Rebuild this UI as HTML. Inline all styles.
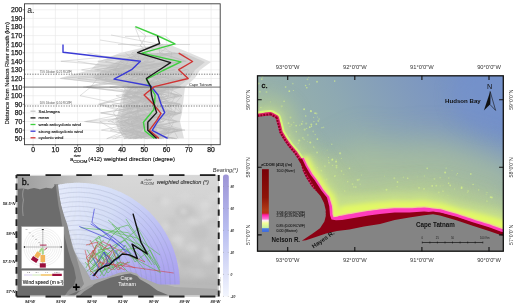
<!DOCTYPE html>
<html><head><meta charset="utf-8"><style>
html,body{margin:0;padding:0;background:#fff;width:520px;height:306px;overflow:hidden}
svg{display:block}
</style></head><body>
<svg width="520" height="306" viewBox="0 0 520 306">
<rect width="520" height="306" fill="#fff"/>
<rect x="24.5" y="3.8" width="195.7" height="140.9" fill="#fff"/>
<path d="M33.1 3.8V144.7M55.4 3.8V144.7M77.6 3.8V144.7M99.8 3.8V144.7M122.1 3.8V144.7M144.3 3.8V144.7M166.6 3.8V144.7M188.8 3.8V144.7M211.1 3.8V144.7M24.5 138.7H220.2M24.5 130.1H220.2M24.5 121.5H220.2M24.5 112.9H220.2M24.5 104.3H220.2M24.5 95.7H220.2M24.5 87.1H220.2M24.5 78.5H220.2M24.5 69.9H220.2M24.5 61.3H220.2M24.5 52.8H220.2M24.5 44.2H220.2M24.5 35.6H220.2M24.5 27.0H220.2M24.5 18.4H220.2M24.5 9.8H220.2" stroke="#e6e6e6" stroke-width="0.6" fill="none"/>
<polygon points="158.0,44.0 120.0,53.0 100.0,61.0 90.0,70.0 60.0,78.0 100.0,82.0 125.0,87.0 122.0,95.0 120.0,104.0 118.0,113.0 115.0,121.0 118.0,130.0 125.0,138.5 184.0,138.5 182.0,130.0 180.0,121.0 182.0,113.0 183.0,104.0 184.0,95.0 185.0,87.0 195.0,78.0 200.0,70.0 211.0,62.0 190.0,53.0 168.0,44.0" fill="#e0e0e0"/>
<polygon points="140.0,53.0 118.0,61.0 103.0,70.0 92.0,78.0 128.0,87.0 178.0,87.0 190.0,78.0 195.0,70.0 205.0,62.0 184.0,53.0" fill="#cdcdcd"/>
<polygon points="128.0,87.0 124.0,95.0 124.0,104.0 122.0,113.0 120.0,121.0 121.0,130.0 126.0,138.5 162.0,138.5 157.0,130.0 156.0,121.0 158.0,113.0 160.0,104.0 162.0,95.0 170.0,87.0" fill="#d0d0d0"/>
<polyline points="147.5,138.7 167.1,130.1 138.7,121.5 131.7,112.9 128.9,104.3 154.2,95.7 139.4,87.1 154.9,78.5 113.2,69.9 123.7,61.3" fill="none" stroke="#b9b9b9" stroke-width="0.45"/>
<polyline points="173.0,138.7 124.7,130.1 111.5,121.5 129.6,112.9 158.9,104.3 154.0,95.7 86.3,87.1 146.8,78.5 134.4,69.9" fill="none" stroke="#b9b9b9" stroke-width="0.45"/>
<polyline points="145.6,138.7 127.0,130.1 120.3,121.5 149.7,112.9 146.7,104.3 124.5,95.7 131.9,87.1 183.7,78.5 188.8,69.9 143.7,61.3 170.0,52.8" fill="none" stroke="#b9b9b9" stroke-width="0.45"/>
<polyline points="158.9,138.7 145.6,130.1 176.4,121.5 160.5,112.9 155.2,104.3 181.6,95.7 139.1,87.1 158.5,78.5 125.7,69.9 77.6,61.3" fill="none" stroke="#b9b9b9" stroke-width="0.45"/>
<polyline points="124.4,138.7 141.7,130.1 147.3,121.5 130.3,112.9 126.8,104.3 154.1,95.7 181.2,87.1 131.1,78.5" fill="none" stroke="#b9b9b9" stroke-width="0.45"/>
<polyline points="115.0,138.7 130.6,130.1 153.3,121.5 118.3,112.9 141.6,104.3 179.1,95.7 152.9,87.1 159.2,78.5 186.1,69.9" fill="none" stroke="#b9b9b9" stroke-width="0.45"/>
<polyline points="147.4,138.7 121.9,130.1 119.0,121.5 113.4,112.9 121.6,104.3 80.0,95.7 90.7,87.1 97.4,78.5 159.6,69.9 97.8,61.3 145.0,52.8" fill="none" stroke="#b9b9b9" stroke-width="0.45"/>
<polyline points="141.5,138.7 147.2,130.1 124.4,121.5 165.4,112.9 162.3,104.3 132.7,95.7 143.7,87.1 181.8,78.5" fill="none" stroke="#b9b9b9" stroke-width="0.45"/>
<polyline points="161.6,138.7 169.5,130.1 174.0,121.5 132.3,112.9 150.2,104.3 158.0,95.7 167.5,87.1 77.6,78.5 175.5,69.9 133.9,61.3 179.4,52.8" fill="none" stroke="#b9b9b9" stroke-width="0.45"/>
<polyline points="136.0,138.7 138.1,130.1 162.0,121.5 180.4,112.9 99.5,104.3 140.9,95.7 181.1,87.1 95.2,78.5 136.9,69.9 182.6,61.3" fill="none" stroke="#b9b9b9" stroke-width="0.45"/>
<polyline points="169.6,138.7 147.0,130.1 159.1,121.5 169.3,112.9 143.3,104.3 178.7,95.7 132.2,87.1 63.7,78.5" fill="none" stroke="#b9b9b9" stroke-width="0.45"/>
<polyline points="133.3,138.7 180.7,130.1 137.8,121.5 126.4,112.9 180.3,104.3 152.6,95.7 148.0,87.1 173.5,78.5 96.8,69.9 138.0,61.3 139.3,52.8" fill="none" stroke="#b9b9b9" stroke-width="0.45"/>
<polyline points="128.5,138.7 175.1,130.1 168.0,121.5 170.9,112.9 126.4,104.3 133.6,95.7 168.6,87.1 168.7,78.5 81.5,69.9 129.0,61.3" fill="none" stroke="#b9b9b9" stroke-width="0.45"/>
<polyline points="154.5,138.7 167.5,130.1 136.5,121.5 135.7,112.9 150.5,104.3 167.1,95.7 148.6,87.1 143.0,78.5" fill="none" stroke="#b9b9b9" stroke-width="0.45"/>
<polyline points="123.6,138.7 169.1,130.1 131.1,121.5 174.1,112.9 177.1,104.3 132.6,95.7 147.0,87.1 125.0,78.5 144.0,69.9 105.4,61.3 163.1,52.8" fill="none" stroke="#b9b9b9" stroke-width="0.45"/>
<polyline points="145.9,138.7 124.2,130.1 163.5,121.5 172.9,112.9 152.1,104.3 163.8,95.7 146.2,87.1 128.9,78.5 112.5,69.9 154.4,61.3 146.1,52.8 139.8,44.2" fill="none" stroke="#b9b9b9" stroke-width="0.45"/>
<polyline points="178.1,138.7 173.7,130.1 107.9,121.5 129.6,112.9 170.5,104.3 161.9,95.7 146.4,87.1 143.9,78.5" fill="none" stroke="#b9b9b9" stroke-width="0.45"/>
<polyline points="130.1,138.7 153.8,130.1 119.7,121.5 158.6,112.9 123.4,104.3 124.1,95.7 149.2,87.1 147.5,78.5 130.5,69.9 139.0,61.3 131.0,52.8" fill="none" stroke="#b9b9b9" stroke-width="0.45"/>
<polyline points="135.3,138.7 157.1,130.1 128.4,121.5 161.0,112.9 169.4,104.3 122.3,95.7 133.1,87.1 143.9,78.5 145.6,69.9" fill="none" stroke="#b9b9b9" stroke-width="0.45"/>
<polyline points="149.6,138.7 170.9,130.1 147.9,121.5 180.9,112.9 171.3,104.3 159.4,95.7 142.9,87.1 60.4,78.5 164.2,69.9 132.2,61.3 169.4,52.8" fill="none" stroke="#b9b9b9" stroke-width="0.45"/>
<polyline points="141.1,138.7 134.6,130.1 125.2,121.5 134.8,112.9 180.2,104.3 135.2,95.7 140.6,87.1 95.1,78.5 147.9,69.9 135.1,61.3 125.3,52.8" fill="none" stroke="#b9b9b9" stroke-width="0.45"/>
<polyline points="133.2,138.7 141.4,130.1 155.9,121.5 179.3,112.9 127.9,104.3 168.6,95.7 167.9,87.1 141.9,78.5 160.0,69.9 183.7,61.3" fill="none" stroke="#b9b9b9" stroke-width="0.45"/>
<polyline points="160.8,138.7 169.4,130.1 132.9,121.5 171.4,112.9 170.9,104.3 175.4,95.7 163.6,87.1 98.0,78.5 111.8,69.9 185.4,61.3 159.5,52.8 159.0,44.2" fill="none" stroke="#b9b9b9" stroke-width="0.45"/>
<polyline points="151.0,138.7 178.3,130.1 121.0,121.5 165.7,112.9 169.8,104.3 134.6,95.7 135.8,87.1 138.7,78.5 114.4,69.9 141.5,61.3 149.0,52.8" fill="none" stroke="#b9b9b9" stroke-width="0.45"/>
<polyline points="112.5,138.7 164.8,130.1 151.9,121.5 100.3,112.9 161.0,104.3 161.9,95.7 153.0,87.1 139.3,78.5 185.3,69.9" fill="none" stroke="#b9b9b9" stroke-width="0.45"/>
<polyline points="129.9,138.7 134.4,130.1 131.2,121.5 181.6,112.9 176.7,104.3 124.6,95.7 158.5,87.1 129.2,78.5 161.1,69.9" fill="none" stroke="#b9b9b9" stroke-width="0.45"/>
<polyline points="165.1,138.7 175.1,130.1 116.6,121.5 138.3,112.9 137.3,104.3 116.1,95.7 172.4,87.1 157.9,78.5 118.1,69.9 173.5,61.3" fill="none" stroke="#b9b9b9" stroke-width="0.45"/>
<polyline points="146.2,138.7 181.9,130.1 138.4,121.5 135.6,112.9 99.5,104.3 137.7,95.7 137.0,87.1 143.5,78.5 113.5,69.9 186.3,61.3 159.7,52.8 172.0,44.2" fill="none" stroke="#b9b9b9" stroke-width="0.45"/>
<polyline points="106.8,138.7 142.5,130.1 124.0,121.5 149.1,112.9 153.2,104.3 123.6,95.7 137.3,87.1 157.0,78.5 128.0,69.9 170.2,61.3 150.0,52.8" fill="none" stroke="#b9b9b9" stroke-width="0.45"/>
<polyline points="177.0,138.7 129.7,130.1 179.8,121.5 126.9,112.9 98.4,104.3 125.6,95.7 137.5,87.1 179.3,78.5" fill="none" stroke="#b9b9b9" stroke-width="0.45"/>
<polyline points="146.8,138.7 129.1,130.1 163.9,121.5 154.8,112.9 162.0,104.3 169.0,95.7 127.6,87.1 131.5,78.5 144.3,69.9 181.1,61.3 132.0,52.8 163.2,44.2" fill="none" stroke="#b9b9b9" stroke-width="0.45"/>
<polyline points="152.9,138.7 178.0,130.1 149.3,121.5 146.7,112.9 132.3,104.3 182.0,95.7 166.7,87.1 175.4,78.5 115.1,69.9 120.1,61.3 142.8,52.8" fill="none" stroke="#b9b9b9" stroke-width="0.45"/>
<polyline points="142.3,138.7 110.2,130.1 160.4,121.5 101.2,112.9 155.3,104.3 133.9,95.7 122.6,87.1 138.8,78.5" fill="none" stroke="#b9b9b9" stroke-width="0.45"/>
<polyline points="175.4,138.7 130.7,130.1 177.4,121.5 137.7,112.9 136.3,104.3 146.0,95.7 162.0,87.1 116.5,78.5 108.7,69.9 171.2,61.3" fill="none" stroke="#b9b9b9" stroke-width="0.45"/>
<polyline points="124.8,138.7 119.5,130.1 128.0,121.5 130.4,112.9 135.0,104.3 126.8,95.7 158.6,87.1 141.1,78.5 112.7,69.9" fill="none" stroke="#b9b9b9" stroke-width="0.45"/>
<polyline points="133.4,138.7 182.4,130.1 86.1,121.5 129.6,112.9 174.5,104.3 181.8,95.7 141.8,87.1 186.9,78.5 110.7,69.9 148.4,61.3 143.2,52.8" fill="none" stroke="#b9b9b9" stroke-width="0.45"/>
<polyline points="106.7,138.7 127.0,130.1 151.5,121.5 142.3,112.9 137.8,104.3 125.4,95.7 133.7,87.1 137.4,78.5 169.9,69.9" fill="none" stroke="#b9b9b9" stroke-width="0.45"/>
<polyline points="134.9,138.7 166.4,130.1 84.5,121.5 176.0,112.9 165.8,104.3 141.0,95.7 179.5,87.1 119.9,78.5 134.6,69.9 120.3,61.3 175.4,52.8" fill="none" stroke="#b9b9b9" stroke-width="0.45"/>
<polyline points="128.7,138.7 122.2,130.1 145.3,121.5 168.5,112.9 170.1,104.3 132.1,95.7 177.8,87.1 160.8,78.5 94.6,69.9 154.6,61.3 157.8,52.8" fill="none" stroke="#b9b9b9" stroke-width="0.45"/>
<polyline points="164.0,138.7 119.3,130.1 135.7,121.5 180.7,112.9 181.2,104.3 125.2,95.7 132.3,87.1 137.5,78.5 143.0,69.9 170.6,61.3 171.6,52.8" fill="none" stroke="#b9b9b9" stroke-width="0.45"/>
<polyline points="169.4,138.7 133.7,130.1 131.5,121.5 146.1,112.9 111.9,104.3 176.3,95.7 86.8,87.1 118.4,78.5 162.6,69.9 129.6,61.3 87.4,52.8" fill="none" stroke="#b9b9b9" stroke-width="0.45"/>
<polyline points="177.1,138.7 114.4,130.1 99.8,121.5 155.3,112.9 141.8,104.3 147.8,95.7 168.7,87.1 105.0,78.5 160.1,69.9" fill="none" stroke="#b9b9b9" stroke-width="0.45"/>
<polyline points="128.9,138.7 185.0,130.1 153.5,121.5 170.1,112.9 144.2,104.3 158.5,95.7 83.3,87.1 140.9,78.5 174.9,69.9" fill="none" stroke="#b9b9b9" stroke-width="0.45"/>
<polyline points="161.4,138.7 101.4,130.1 141.6,121.5 137.7,112.9 138.0,104.3 142.1,95.7 173.9,87.1 129.6,78.5 162.5,69.9 60.9,61.3 148.3,52.8" fill="none" stroke="#b9b9b9" stroke-width="0.45"/>
<polyline points="175.3,138.7 125.9,130.1 135.6,121.5 176.2,112.9 147.9,104.3 151.3,95.7 109.7,87.1 182.9,78.5" fill="none" stroke="#b9b9b9" stroke-width="0.45"/>
<polyline points="168.0,138.7 168.9,130.1 169.4,121.5 175.3,112.9 156.9,104.3 125.4,95.7 163.3,87.1 155.8,78.5" fill="none" stroke="#b9b9b9" stroke-width="0.45"/>
<polyline points="160.0,138.7 132.3,130.1 117.7,121.5 128.0,112.9 127.6,104.3 170.6,95.7 172.8,87.1 158.9,78.5 135.2,69.9" fill="none" stroke="#b9b9b9" stroke-width="0.45"/>
<polyline points="156.4,138.7 135.5,130.1 152.9,121.5 160.2,112.9 146.1,104.3 145.0,95.7 136.1,87.1 169.1,78.5 123.1,69.9 128.0,61.3" fill="none" stroke="#b9b9b9" stroke-width="0.45"/>
<polyline points="111.0,35.0 158.0,44.0 172.0,53.0" fill="none" stroke="#b9b9b9" stroke-width="0.45"/>
<polyline points="118.0,44.5 190.0,44.5" fill="none" stroke="#b9b9b9" stroke-width="0.45"/>
<polyline points="135.0,27.0 140.0,40.0 150.0,53.0" fill="none" stroke="#b9b9b9" stroke-width="0.45"/>
<polyline points="100.0,40.0 150.0,48.0 185.0,55.0" fill="none" stroke="#b9b9b9" stroke-width="0.45"/>
<polyline points="136.0,28.0 146.0,36.0 140.0,46.0" fill="none" stroke="#b9b9b9" stroke-width="0.45"/>
<polyline points="125.0,36.5 165.0,36.0 176.0,45.0" fill="none" stroke="#b9b9b9" stroke-width="0.45"/>
<path d="M24.5 74.2H220.2M24.5 106.0H220.2" stroke="#444" stroke-width="0.7" stroke-dasharray="1.3 1.3"/>
<path d="M24.5 87.1H220.2" stroke="#555" stroke-width="0.8"/>
<text x="39.7" y="72.6" font-size="2.75" fill="#555" font-family="Liberation Sans, Arial, sans-serif">75% Dilution (0.25 RCWF)</text>
<text x="39.7" y="104.4" font-size="2.75" fill="#555" font-family="Liberation Sans, Arial, sans-serif">50% Dilution (0.50 RCWF)</text>
<text x="188.9" y="86.1" font-size="3.9" fill="#222" font-family="Liberation Sans, Arial, sans-serif">Cape Tatnam</text>
<polyline points="135.3,26.6 157.0,35.5 175.0,43.8 141.9,53.1 180.9,61.9 163.0,70.5 146.3,79.3 149.3,85.1 155.1,95.0 154.5,104.0 153.7,109.7 143.4,122.2 144.9,131.0 154.4,138.4" fill="none" stroke="#3ecf3e" stroke-width="1.4" stroke-linejoin="round"/>
<polyline points="63.0,44.5 63.0,52.3 140.4,61.2 131.6,69.7 114.0,79.1 150.7,86.0 158.1,95.0 161.0,104.0 164.7,112.6 158.0,121.0 152.2,130.3 167.6,138.4" fill="none" stroke="#3a3ad6" stroke-width="1.4" stroke-linejoin="round"/>
<polyline points="178.7,53.1 192.6,61.5 178.7,69.7 188.2,78.5 154.4,86.6 144.1,95.0 153.7,104.6 161.0,113.4 156.6,120.7 149.3,130.3 158.8,138.4" fill="none" stroke="#d03434" stroke-width="1.4" stroke-linejoin="round"/>
<polyline points="157.4,35.9 159.6,43.5 137.5,52.6 170.6,62.6 158.5,70.5 146.3,78.5 150.7,86.6 151.5,95.0 154.0,104.0 156.6,112.6 147.8,122.2 147.8,130.3 156.6,138.4" fill="none" stroke="#1a1a1a" stroke-width="1.4" stroke-linejoin="round"/>
<path d="M30.5 111.2H35.5" stroke="#c8c8c8" stroke-width="1.3"/>
<text x="38.6" y="112.7" font-size="4.2" fill="#222" stroke="#222" stroke-width="0.14" font-family="Liberation Sans, Arial, sans-serif">Sat.Images</text>
<path d="M30.5 117.9H35.5" stroke="#1a1a1a" stroke-width="1.3"/>
<text x="38.6" y="119.4" font-size="4.2" fill="#222" stroke="#222" stroke-width="0.14" font-family="Liberation Sans, Arial, sans-serif">mean</text>
<path d="M30.5 124.5H35.5" stroke="#3ecf3e" stroke-width="1.3"/>
<text x="38.6" y="126.0" font-size="4.2" fill="#222" stroke="#222" stroke-width="0.14" font-family="Liberation Sans, Arial, sans-serif">weak anticyclonic wind</text>
<path d="M30.5 131.2H35.5" stroke="#3a3ad6" stroke-width="1.3"/>
<text x="38.6" y="132.7" font-size="4.2" fill="#222" stroke="#222" stroke-width="0.14" font-family="Liberation Sans, Arial, sans-serif">strong anticyclonic wind</text>
<path d="M30.5 137.8H35.5" stroke="#d03434" stroke-width="1.3"/>
<text x="38.6" y="139.3" font-size="4.2" fill="#222" stroke="#222" stroke-width="0.14" font-family="Liberation Sans, Arial, sans-serif">cyclonic wind</text>
<rect x="24.5" y="3.8" width="195.7" height="140.9" fill="none" stroke="#3a3a3a" stroke-width="0.9"/>
<text x="27.3" y="13.2" font-size="8.5" fill="#111" font-family="Liberation Sans, Arial, sans-serif">a.</text>
<text x="22.3" y="141.1" font-size="6.8" fill="#1a1a1a" stroke="#1a1a1a" stroke-width="0.25" text-anchor="end" font-family="Liberation Sans, Arial, sans-serif">50</text>
<text x="22.3" y="132.5" font-size="6.8" fill="#1a1a1a" stroke="#1a1a1a" stroke-width="0.25" text-anchor="end" font-family="Liberation Sans, Arial, sans-serif">60</text>
<text x="22.3" y="123.9" font-size="6.8" fill="#1a1a1a" stroke="#1a1a1a" stroke-width="0.25" text-anchor="end" font-family="Liberation Sans, Arial, sans-serif">70</text>
<text x="22.3" y="115.3" font-size="6.8" fill="#1a1a1a" stroke="#1a1a1a" stroke-width="0.25" text-anchor="end" font-family="Liberation Sans, Arial, sans-serif">80</text>
<text x="22.3" y="106.7" font-size="6.8" fill="#1a1a1a" stroke="#1a1a1a" stroke-width="0.25" text-anchor="end" font-family="Liberation Sans, Arial, sans-serif">90</text>
<text x="22.3" y="98.2" font-size="6.8" fill="#1a1a1a" stroke="#1a1a1a" stroke-width="0.25" text-anchor="end" font-family="Liberation Sans, Arial, sans-serif">100</text>
<text x="22.3" y="89.6" font-size="6.8" fill="#1a1a1a" stroke="#1a1a1a" stroke-width="0.25" text-anchor="end" font-family="Liberation Sans, Arial, sans-serif">110</text>
<text x="22.3" y="81.0" font-size="6.8" fill="#1a1a1a" stroke="#1a1a1a" stroke-width="0.25" text-anchor="end" font-family="Liberation Sans, Arial, sans-serif">120</text>
<text x="22.3" y="72.4" font-size="6.8" fill="#1a1a1a" stroke="#1a1a1a" stroke-width="0.25" text-anchor="end" font-family="Liberation Sans, Arial, sans-serif">130</text>
<text x="22.3" y="63.8" font-size="6.8" fill="#1a1a1a" stroke="#1a1a1a" stroke-width="0.25" text-anchor="end" font-family="Liberation Sans, Arial, sans-serif">140</text>
<text x="22.3" y="55.2" font-size="6.8" fill="#1a1a1a" stroke="#1a1a1a" stroke-width="0.25" text-anchor="end" font-family="Liberation Sans, Arial, sans-serif">150</text>
<text x="22.3" y="46.6" font-size="6.8" fill="#1a1a1a" stroke="#1a1a1a" stroke-width="0.25" text-anchor="end" font-family="Liberation Sans, Arial, sans-serif">160</text>
<text x="22.3" y="38.0" font-size="6.8" fill="#1a1a1a" stroke="#1a1a1a" stroke-width="0.25" text-anchor="end" font-family="Liberation Sans, Arial, sans-serif">170</text>
<text x="22.3" y="29.4" font-size="6.8" fill="#1a1a1a" stroke="#1a1a1a" stroke-width="0.25" text-anchor="end" font-family="Liberation Sans, Arial, sans-serif">180</text>
<text x="22.3" y="20.8" font-size="6.8" fill="#1a1a1a" stroke="#1a1a1a" stroke-width="0.25" text-anchor="end" font-family="Liberation Sans, Arial, sans-serif">190</text>
<text x="22.3" y="12.2" font-size="6.8" fill="#1a1a1a" stroke="#1a1a1a" stroke-width="0.25" text-anchor="end" font-family="Liberation Sans, Arial, sans-serif">200</text>
<text x="33.1" y="152.4" font-size="6.8" fill="#1a1a1a" stroke="#1a1a1a" stroke-width="0.25" text-anchor="middle" font-family="Liberation Sans, Arial, sans-serif">0</text>
<text x="55.4" y="152.4" font-size="6.8" fill="#1a1a1a" stroke="#1a1a1a" stroke-width="0.25" text-anchor="middle" font-family="Liberation Sans, Arial, sans-serif">10</text>
<text x="77.6" y="152.4" font-size="6.8" fill="#1a1a1a" stroke="#1a1a1a" stroke-width="0.25" text-anchor="middle" font-family="Liberation Sans, Arial, sans-serif">20</text>
<text x="99.8" y="152.4" font-size="6.8" fill="#1a1a1a" stroke="#1a1a1a" stroke-width="0.25" text-anchor="middle" font-family="Liberation Sans, Arial, sans-serif">30</text>
<text x="122.1" y="152.4" font-size="6.8" fill="#1a1a1a" stroke="#1a1a1a" stroke-width="0.25" text-anchor="middle" font-family="Liberation Sans, Arial, sans-serif">40</text>
<text x="144.3" y="152.4" font-size="6.8" fill="#1a1a1a" stroke="#1a1a1a" stroke-width="0.25" text-anchor="middle" font-family="Liberation Sans, Arial, sans-serif">50</text>
<text x="166.6" y="152.4" font-size="6.8" fill="#1a1a1a" stroke="#1a1a1a" stroke-width="0.25" text-anchor="middle" font-family="Liberation Sans, Arial, sans-serif">60</text>
<text x="188.8" y="152.4" font-size="6.8" fill="#1a1a1a" stroke="#1a1a1a" stroke-width="0.25" text-anchor="middle" font-family="Liberation Sans, Arial, sans-serif">70</text>
<text x="211.1" y="152.4" font-size="6.8" fill="#1a1a1a" stroke="#1a1a1a" stroke-width="0.25" text-anchor="middle" font-family="Liberation Sans, Arial, sans-serif">80</text>
<path d="M22.8 138.7H24.5M22.8 130.1H24.5M22.8 121.5H24.5M22.8 112.9H24.5M22.8 104.3H24.5M22.8 95.7H24.5M22.8 87.1H24.5M22.8 78.5H24.5M22.8 69.9H24.5M22.8 61.3H24.5M22.8 52.8H24.5M22.8 44.2H24.5M22.8 35.6H24.5M22.8 27.0H24.5M22.8 18.4H24.5M22.8 9.8H24.5M33.1 144.7V146.5M55.4 144.7V146.5M77.6 144.7V146.5M99.8 144.7V146.5M122.1 144.7V146.5M144.3 144.7V146.5M166.6 144.7V146.5M188.8 144.7V146.5M211.1 144.7V146.5" stroke="#333" stroke-width="0.6"/>
<text transform="translate(8.7 73.3) rotate(-90)" font-size="5.85" fill="#1a1a1a" stroke="#1a1a1a" stroke-width="0.15" text-anchor="middle" font-family="Liberation Sans, Arial, sans-serif">Distance from Nelson River mouth (km)</text>
<text x="70.1" y="161" font-size="5.9" fill="#1a1a1a" stroke="#1a1a1a" stroke-width="0.15" font-family="Liberation Sans, Arial, sans-serif">a<tspan font-size="4.1" x="73.2" y="162.6" textLength="14.2" lengthAdjust="spacingAndGlyphs">CDOM</tspan><tspan font-size="3.3" x="73.8" y="157" textLength="6.9" lengthAdjust="spacingAndGlyphs">river</tspan><tspan x="88.3" y="161">(412) weighted direction (degree)</tspan></text>
<clipPath id="cb"><rect x="16.5" y="175.1" width="202.2" height="121.4"/></clipPath>
<linearGradient id="bgsea" x1="0" y1="0" x2="0" y2="1"><stop offset="0" stop-color="#d8d8d8"/><stop offset="0.5" stop-color="#cbcbcb"/><stop offset="0.8" stop-color="#c0c0c0"/><stop offset="1" stop-color="#b0b0b0"/></linearGradient>
<linearGradient id="topstrip" gradientUnits="userSpaceOnUse" x1="16" y1="0" x2="120" y2="0"><stop offset="0" stop-color="#9c9c9c"/><stop offset="0.3" stop-color="#adadad"/><stop offset="0.55" stop-color="#c2c2c2"/><stop offset="1" stop-color="#d8d8d8" stop-opacity="0"/></linearGradient>
<g clip-path="url(#cb)">
<rect x="16.5" y="175.1" width="202.2" height="121.4" fill="url(#bgsea)"/>
<filter id="bb2" filterUnits="userSpaceOnUse" x="0" y="160" width="240" height="150"><feGaussianBlur stdDeviation="2"/></filter>
<g filter="url(#bb2)" opacity="0.55">
<ellipse cx="185" cy="212" rx="10" ry="7" fill="#bcbcbc"/>
<ellipse cx="200" cy="232" rx="9" ry="8" fill="#bebebe"/>
<ellipse cx="172" cy="222" rx="6" ry="5" fill="#c2c2c2"/>
<ellipse cx="192" cy="248" rx="6" ry="4" fill="#dedede"/>
<ellipse cx="208" cy="258" rx="6" ry="5" fill="#dcdcdc"/>
<ellipse cx="185" cy="262" rx="7" ry="4" fill="#b8b8b8"/>
<ellipse cx="160" cy="200" rx="6" ry="3" fill="#c8c8c8"/>
<ellipse cx="205" cy="205" rx="5" ry="4" fill="#e2e2e2"/>
<ellipse cx="178" cy="240" rx="4" ry="3" fill="#dadada"/>
<ellipse cx="196" cy="222" rx="4" ry="3" fill="#dcdcdc"/>
<ellipse cx="170" cy="258" rx="5" ry="3" fill="#d6d6d6"/>
<ellipse cx="159.5" cy="241.3" rx="6.6" ry="3.4" fill="#c6c6c6"/>
<ellipse cx="187.6" cy="246.5" rx="3.3" ry="2.7" fill="#dadada"/>
<ellipse cx="221.6" cy="235.0" rx="4.4" ry="3.9" fill="#dedede"/>
<ellipse cx="152.4" cy="249.0" rx="3.9" ry="2.0" fill="#dedede"/>
<ellipse cx="203.7" cy="208.5" rx="2.2" ry="4.3" fill="#dedede"/>
<ellipse cx="207.5" cy="217.9" rx="5.6" ry="4.6" fill="#dedede"/>
<ellipse cx="198.6" cy="273.3" rx="5.6" ry="3.7" fill="#dadada"/>
<ellipse cx="219.1" cy="206.4" rx="2.5" ry="2.4" fill="#c6c6c6"/>
<ellipse cx="157.8" cy="277.1" rx="5.9" ry="4.6" fill="#dadada"/>
<ellipse cx="174.5" cy="265.8" rx="3.8" ry="3.8" fill="#dedede"/>
<ellipse cx="187.9" cy="271.9" rx="6.6" ry="2.1" fill="#e2e2e2"/>
<ellipse cx="162.9" cy="246.5" rx="2.8" ry="4.6" fill="#e2e2e2"/>
<ellipse cx="219.1" cy="271.9" rx="2.5" ry="4.0" fill="#dedede"/>
<ellipse cx="191.9" cy="279.0" rx="3.4" ry="2.2" fill="#c6c6c6"/>
<ellipse cx="210.0" cy="279.1" rx="3.7" ry="2.2" fill="#bdbdbd"/>
<ellipse cx="213.6" cy="196.7" rx="5.8" ry="4.6" fill="#dadada"/>
<ellipse cx="143.6" cy="247.2" rx="3.9" ry="3.8" fill="#bdbdbd"/>
<ellipse cx="185.2" cy="273.4" rx="4.5" ry="5.0" fill="#c6c6c6"/>
<ellipse cx="165.4" cy="201.5" rx="4.7" ry="4.8" fill="#dedede"/>
<ellipse cx="219.7" cy="219.8" rx="2.8" ry="2.1" fill="#c6c6c6"/>
<ellipse cx="211.2" cy="221.7" rx="6.5" ry="3.1" fill="#c2c2c2"/>
<ellipse cx="177.8" cy="239.2" rx="6.3" ry="4.0" fill="#e2e2e2"/>
<ellipse cx="148.4" cy="277.7" rx="3.4" ry="3.9" fill="#dedede"/>
<ellipse cx="198.7" cy="274.6" rx="6.9" ry="3.6" fill="#dadada"/>
<ellipse cx="185.0" cy="196.0" rx="6.9" ry="2.9" fill="#dadada"/>
<ellipse cx="170.9" cy="245.1" rx="2.3" ry="3.9" fill="#c2c2c2"/>
<ellipse cx="178.2" cy="252.7" rx="5.0" ry="2.8" fill="#c6c6c6"/>
<ellipse cx="180.1" cy="245.1" rx="2.1" ry="3.1" fill="#e2e2e2"/>
<ellipse cx="191.5" cy="220.4" rx="3.6" ry="3.1" fill="#dedede"/>
<ellipse cx="165.6" cy="226.4" rx="3.3" ry="4.4" fill="#dedede"/>
<ellipse cx="148.6" cy="264.1" rx="5.4" ry="2.4" fill="#dedede"/>
<ellipse cx="181.0" cy="250.6" rx="3.2" ry="2.6" fill="#c6c6c6"/>
<ellipse cx="175.7" cy="254.3" rx="5.0" ry="4.8" fill="#bdbdbd"/>
<ellipse cx="195.3" cy="214.1" rx="2.4" ry="4.2" fill="#c2c2c2"/>
<ellipse cx="157.9" cy="243.3" rx="3.1" ry="2.4" fill="#c6c6c6"/>
<ellipse cx="183.4" cy="211.2" rx="2.9" ry="2.8" fill="#dedede"/>
<ellipse cx="206.2" cy="249.6" rx="3.7" ry="2.4" fill="#dedede"/>
<ellipse cx="163.9" cy="262.5" rx="4.3" ry="3.9" fill="#c6c6c6"/>
<ellipse cx="163.8" cy="243.3" rx="6.6" ry="2.5" fill="#bdbdbd"/>
<ellipse cx="140.4" cy="275.2" rx="6.9" ry="3.3" fill="#dedede"/>
<path d="M150 268 Q185 276 222 272" fill="none" stroke="#c4c4c4" stroke-width="3"/>
<path d="M150 273 Q185 281 222 277" fill="none" stroke="#bcbcbc" stroke-width="3"/>
<path d="M150 278 Q185 286 222 282" fill="none" stroke="#b4b4b4" stroke-width="3"/>
</g>
<path d="M16.5 175 L120 175 L120 189 L16.5 189Z" fill="url(#topstrip)"/>
<path d="M150 297 L150 276 L170 281 L185 284 L219 285 L219 297Z" fill="#b8b8b8"/>
<path d="M150 297 L150 286 L170 290 L190 292 L219 292.5 L219 297Z" fill="#a2a2a2"/>
<path d="M54 184 L59 184 L60.5 195 L62 205 L65 215 L69 225 L72 238 L76 250 L81 260 L87 268.4 L92 278.8 L96 281 L86 287 L78 293 L72 297 L60 297 Z" fill="#8c8c8c"/>
<path d="M71 240 L74 250 L79 260 L85 268.4 L90 278 L106 275.5 L119.8 270.5 L128.4 269.3 L137 271.6 L149.2 278.5 L160 283 L175 287 L219 289 L219 297 L80 297 L74 297 L84 284 L80 270 L76 256 L72 246 Z" fill="#a9a9a9"/>
<path d="M16.5 189 L22 188.4 L28 189.3 L34 188 L40 189.2 L46 187.8 L52 188.6 L55.8 184.4 L57.2 196 L58.5 206 L60.5 215 L62 225 L65 238 L68 250 L71 260 L74 268 L76 278 L74 285 L68 291 L64 297 L16.5 297Z" fill="#6c6c6c"/>
<path d="M24 188 Q21.5 194 23.5 200 Q21.8 207 23.2 216" fill="none" stroke="#929292" stroke-width="1.1"/>
<path d="M64 297 L76 292 L86.9 288 L97.3 282.8 L111.1 277.6 L125 274.2 L130.2 273.6 L137.1 276 L140 279.2 L149.2 284.5 L157.2 290.6 L168.6 295.2 L180 297.5Z" fill="#6c6c6c"/>
<path d="M73 297 L80 291 L88 286 L95 283.5 L92 286.5 L84 291.5 L78 297Z" fill="#9c9c9c"/>
<clipPath id="fanclip"><path d="M56.5 170 L240 170 L240 290 L180 290 L175 288.9 L160 284.9 L149.2 280.5 L140 276.8 L137 273.6 L128.4 271.3 L119.8 272.5 L106 277.5 L91.2 280 L85 268.4 L79 260 L74 250 L70.5 238 L67.5 225 L64 215 L61 205 L59.3 195 L58 184.4 Z"/></clipPath>
<g clip-path="url(#fanclip)">
<path d="M77.9 284.6L56.73 185.02A101.8 101.8 0 0 1 59.00 184.57Z" fill="rgb(228, 234, 250)"/>
<path d="M77.9 284.6L58.48 184.67A101.8 101.8 0 0 1 60.75 184.26Z" fill="rgb(227, 233, 250)"/>
<path d="M77.9 284.6L60.22 184.35A101.8 101.8 0 0 1 62.50 183.97Z" fill="rgb(227, 233, 250)"/>
<path d="M77.9 284.6L61.97 184.05A101.8 101.8 0 0 1 64.26 183.72Z" fill="rgb(226, 233, 250)"/>
<path d="M77.9 284.6L63.73 183.79A101.8 101.8 0 0 1 66.02 183.50Z" fill="rgb(226, 232, 250)"/>
<path d="M77.9 284.6L65.49 183.56A101.8 101.8 0 0 1 67.79 183.30Z" fill="rgb(226, 232, 250)"/>
<path d="M77.9 284.6L67.26 183.36A101.8 101.8 0 0 1 69.56 183.14Z" fill="rgb(225, 232, 249)"/>
<path d="M77.9 284.6L69.03 183.19A101.8 101.8 0 0 1 71.33 183.01Z" fill="rgb(225, 231, 249)"/>
<path d="M77.9 284.6L70.80 183.05A101.8 101.8 0 0 1 73.10 182.91Z" fill="rgb(224, 231, 249)"/>
<path d="M77.9 284.6L72.57 182.94A101.8 101.8 0 0 1 74.88 182.84Z" fill="rgb(224, 231, 249)"/>
<path d="M77.9 284.6L74.35 182.86A101.8 101.8 0 0 1 76.66 182.81Z" fill="rgb(223, 230, 249)"/>
<path d="M77.9 284.6L76.12 182.82A101.8 101.8 0 0 1 78.43 182.80Z" fill="rgb(223, 230, 249)"/>
<path d="M77.9 284.6L77.90 182.80A101.8 101.8 0 0 1 80.21 182.83Z" fill="rgb(222, 229, 249)"/>
<path d="M77.9 284.6L79.68 182.82A101.8 101.8 0 0 1 81.99 182.88Z" fill="rgb(222, 229, 249)"/>
<path d="M77.9 284.6L81.45 182.86A101.8 101.8 0 0 1 83.76 182.97Z" fill="rgb(222, 229, 249)"/>
<path d="M77.9 284.6L83.23 182.94A101.8 101.8 0 0 1 85.53 183.09Z" fill="rgb(221, 228, 249)"/>
<path d="M77.9 284.6L85.00 183.05A101.8 101.8 0 0 1 87.30 183.24Z" fill="rgb(221, 228, 249)"/>
<path d="M77.9 284.6L86.77 183.19A101.8 101.8 0 0 1 89.07 183.41Z" fill="rgb(220, 228, 249)"/>
<path d="M77.9 284.6L88.54 183.36A101.8 101.8 0 0 1 90.84 183.63Z" fill="rgb(220, 227, 248)"/>
<path d="M77.9 284.6L90.31 183.56A101.8 101.8 0 0 1 92.60 183.87Z" fill="rgb(219, 227, 248)"/>
<path d="M77.9 284.6L92.07 183.79A101.8 101.8 0 0 1 94.35 184.14Z" fill="rgb(219, 227, 248)"/>
<path d="M77.9 284.6L93.83 184.05A101.8 101.8 0 0 1 96.10 184.44Z" fill="rgb(218, 226, 248)"/>
<path d="M77.9 284.6L95.58 184.35A101.8 101.8 0 0 1 97.85 184.77Z" fill="rgb(218, 226, 248)"/>
<path d="M77.9 284.6L97.32 184.67A101.8 101.8 0 0 1 99.59 185.14Z" fill="rgb(218, 226, 248)"/>
<path d="M77.9 284.6L99.07 185.02A101.8 101.8 0 0 1 101.32 185.53Z" fill="rgb(217, 225, 248)"/>
<path d="M77.9 284.6L100.80 185.41A101.8 101.8 0 0 1 103.04 185.95Z" fill="rgb(217, 225, 248)"/>
<path d="M77.9 284.6L102.53 185.82A101.8 101.8 0 0 1 104.76 186.41Z" fill="rgb(216, 224, 248)"/>
<path d="M77.9 284.6L104.25 186.27A101.8 101.8 0 0 1 106.47 186.89Z" fill="rgb(216, 224, 248)"/>
<path d="M77.9 284.6L105.96 186.74A101.8 101.8 0 0 1 108.17 187.41Z" fill="rgb(215, 224, 248)"/>
<path d="M77.9 284.6L107.66 187.25A101.8 101.8 0 0 1 109.86 187.95Z" fill="rgb(215, 223, 248)"/>
<path d="M77.9 284.6L109.36 187.78A101.8 101.8 0 0 1 111.55 188.52Z" fill="rgb(214, 223, 247)"/>
<path d="M77.9 284.6L111.04 188.35A101.8 101.8 0 0 1 113.22 189.12Z" fill="rgb(214, 223, 247)"/>
<path d="M77.9 284.6L112.72 188.94A101.8 101.8 0 0 1 114.88 189.75Z" fill="rgb(214, 222, 247)"/>
<path d="M77.9 284.6L114.38 189.56A101.8 101.8 0 0 1 116.53 190.41Z" fill="rgb(213, 222, 247)"/>
<path d="M77.9 284.6L116.03 190.21A101.8 101.8 0 0 1 118.17 191.10Z" fill="rgb(213, 222, 247)"/>
<path d="M77.9 284.6L117.68 190.89A101.8 101.8 0 0 1 119.79 191.82Z" fill="rgb(212, 221, 247)"/>
<path d="M77.9 284.6L119.31 191.60A101.8 101.8 0 0 1 121.41 192.56Z" fill="rgb(212, 221, 247)"/>
<path d="M77.9 284.6L120.92 192.34A101.8 101.8 0 0 1 123.00 193.34Z" fill="rgb(211, 220, 247)"/>
<path d="M77.9 284.6L122.53 193.10A101.8 101.8 0 0 1 124.59 194.14Z" fill="rgb(210, 219, 247)"/>
<path d="M77.9 284.6L124.12 193.90A101.8 101.8 0 0 1 126.16 194.97Z" fill="rgb(209, 218, 247)"/>
<path d="M77.9 284.6L125.69 194.72A101.8 101.8 0 0 1 127.72 195.82Z" fill="rgb(209, 217, 247)"/>
<path d="M77.9 284.6L127.25 195.56A101.8 101.8 0 0 1 129.26 196.71Z" fill="rgb(208, 216, 247)"/>
<path d="M77.9 284.6L128.80 196.44A101.8 101.8 0 0 1 130.79 197.62Z" fill="rgb(207, 215, 246)"/>
<path d="M77.9 284.6L130.33 197.34A101.8 101.8 0 0 1 132.30 198.55Z" fill="rgb(206, 214, 246)"/>
<path d="M77.9 284.6L131.85 198.27A101.8 101.8 0 0 1 133.79 199.51Z" fill="rgb(205, 213, 246)"/>
<path d="M77.9 284.6L133.34 199.22A101.8 101.8 0 0 1 135.27 200.50Z" fill="rgb(205, 212, 246)"/>
<path d="M77.9 284.6L134.83 200.20A101.8 101.8 0 0 1 136.73 201.52Z" fill="rgb(204, 211, 246)"/>
<path d="M77.9 284.6L136.29 201.21A101.8 101.8 0 0 1 138.17 202.56Z" fill="rgb(203, 210, 246)"/>
<path d="M77.9 284.6L137.74 202.24A101.8 101.8 0 0 1 139.59 203.62Z" fill="rgb(202, 209, 246)"/>
<path d="M77.9 284.6L139.16 203.30A101.8 101.8 0 0 1 140.99 204.71Z" fill="rgb(202, 208, 246)"/>
<path d="M77.9 284.6L140.57 204.38A101.8 101.8 0 0 1 142.38 205.82Z" fill="rgb(201, 207, 246)"/>
<path d="M77.9 284.6L141.96 205.49A101.8 101.8 0 0 1 143.74 206.96Z" fill="rgb(200, 206, 246)"/>
<path d="M77.9 284.6L143.34 206.62A101.8 101.8 0 0 1 145.09 208.12Z" fill="rgb(199, 205, 246)"/>
<path d="M77.9 284.6L144.69 207.77A101.8 101.8 0 0 1 146.41 209.31Z" fill="rgb(199, 204, 246)"/>
<path d="M77.9 284.6L146.02 208.95A101.8 101.8 0 0 1 147.72 210.51Z" fill="rgb(198, 203, 246)"/>
<path d="M77.9 284.6L147.33 210.15A101.8 101.8 0 0 1 149.00 211.74Z" fill="rgb(197, 202, 246)"/>
<path d="M77.9 284.6L148.62 211.37A101.8 101.8 0 0 1 150.26 212.99Z" fill="rgb(196, 201, 245)"/>
<path d="M77.9 284.6L149.88 212.62A101.8 101.8 0 0 1 151.50 214.27Z" fill="rgb(195, 200, 245)"/>
<path d="M77.9 284.6L151.13 213.88A101.8 101.8 0 0 1 152.71 215.56Z" fill="rgb(195, 199, 245)"/>
<path d="M77.9 284.6L152.35 215.17A101.8 101.8 0 0 1 153.91 216.88Z" fill="rgb(194, 198, 245)"/>
<path d="M77.9 284.6L153.55 216.48A101.8 101.8 0 0 1 155.08 218.22Z" fill="rgb(193, 197, 245)"/>
<path d="M77.9 284.6L154.73 217.81A101.8 101.8 0 0 1 156.22 219.57Z" fill="rgb(192, 196, 245)"/>
<path d="M77.9 284.6L155.88 219.16A101.8 101.8 0 0 1 157.35 220.95Z" fill="rgb(192, 195, 245)"/>
<path d="M77.9 284.6L157.01 220.54A101.8 101.8 0 0 1 158.45 222.35Z" fill="rgb(191, 194, 245)"/>
<path d="M77.9 284.6L158.12 221.93A101.8 101.8 0 0 1 159.52 223.76Z" fill="rgb(190, 193, 245)"/>
<path d="M77.9 284.6L159.20 223.34A101.8 101.8 0 0 1 160.57 225.20Z" fill="rgb(190, 192, 245)"/>
<path d="M77.9 284.6L160.26 224.76A101.8 101.8 0 0 1 161.59 226.65Z" fill="rgb(189, 191, 244)"/>
<path d="M77.9 284.6L161.29 226.21A101.8 101.8 0 0 1 162.59 228.12Z" fill="rgb(188, 190, 244)"/>
<path d="M77.9 284.6L162.30 227.67A101.8 101.8 0 0 1 163.57 229.60Z" fill="rgb(188, 189, 244)"/>
<path d="M77.9 284.6L163.28 229.16A101.8 101.8 0 0 1 164.51 231.11Z" fill="rgb(187, 188, 244)"/>
<path d="M77.9 284.6L164.23 230.65A101.8 101.8 0 0 1 165.43 232.63Z" fill="rgb(187, 187, 244)"/>
<path d="M77.9 284.6L165.16 232.17A101.8 101.8 0 0 1 166.33 234.16Z" fill="rgb(186, 186, 244)"/>
<path d="M77.9 284.6L166.06 233.70A101.8 101.8 0 0 1 167.19 235.71Z" fill="rgb(185, 185, 244)"/>
<path d="M77.9 284.6L166.94 235.25A101.8 101.8 0 0 1 168.03 237.28Z" fill="rgb(185, 184, 244)"/>
<path d="M77.9 284.6L167.78 236.81A101.8 101.8 0 0 1 168.85 238.86Z" fill="rgb(184, 183, 244)"/>
<path d="M77.9 284.6L168.60 238.38A101.8 101.8 0 0 1 169.63 240.45Z" fill="rgb(183, 182, 243)"/>
<path d="M77.9 284.6L169.40 239.97A101.8 101.8 0 0 1 170.39 242.06Z" fill="rgb(183, 181, 243)"/>
<path d="M77.9 284.6L170.16 241.58A101.8 101.8 0 0 1 171.11 243.68Z" fill="rgb(182, 180, 243)"/>
<path d="M77.9 284.6L170.90 243.19A101.8 101.8 0 0 1 171.81 245.31Z" fill="rgb(181, 179, 243)"/>
<path d="M77.9 284.6L171.61 244.82A101.8 101.8 0 0 1 172.49 246.96Z" fill="rgb(181, 178, 243)"/>
<path d="M77.9 284.6L172.29 246.47A101.8 101.8 0 0 1 173.13 248.62Z" fill="rgb(180, 177, 243)"/>
<path d="M77.9 284.6L172.94 248.12A101.8 101.8 0 0 1 173.74 250.28Z" fill="rgb(180, 176, 243)"/>
<path d="M77.9 284.6L173.56 249.78A101.8 101.8 0 0 1 174.33 251.96Z" fill="rgb(179, 175, 243)"/>
<path d="M77.9 284.6L174.15 251.46A101.8 101.8 0 0 1 174.88 253.65Z" fill="rgb(178, 174, 242)"/>
<path d="M77.9 284.6L174.72 253.14A101.8 101.8 0 0 1 175.41 255.35Z" fill="rgb(178, 173, 242)"/>
<path d="M77.9 284.6L175.25 254.84A101.8 101.8 0 0 1 175.90 257.05Z" fill="rgb(177, 172, 242)"/>
<path d="M77.9 284.6L175.76 256.54A101.8 101.8 0 0 1 176.37 258.77Z" fill="rgb(176, 171, 242)"/>
<path d="M77.9 284.6L176.23 258.25A101.8 101.8 0 0 1 176.80 260.49Z" fill="rgb(176, 170, 242)"/>
<path d="M77.9 284.6L176.68 259.97A101.8 101.8 0 0 1 177.21 262.22Z" fill="rgb(175, 169, 242)"/>
<path d="M77.9 284.6L177.09 261.70A101.8 101.8 0 0 1 177.58 263.96Z" fill="rgb(174, 168, 241)"/>
<path d="M77.9 284.6L177.48 263.43A101.8 101.8 0 0 1 177.93 265.70Z" fill="rgb(174, 167, 241)"/>
<path d="M77.9 284.6L177.83 265.18A101.8 101.8 0 0 1 178.24 267.45Z" fill="rgb(173, 166, 241)"/>
<path d="M77.9 284.6L178.15 266.92A101.8 101.8 0 0 1 178.53 269.20Z" fill="rgb(172, 166, 241)"/>
<path d="M77.9 284.6L178.45 268.67A101.8 101.8 0 0 1 178.78 270.96Z" fill="rgb(172, 165, 240)"/>
<path d="M77.9 284.6L178.71 270.43A101.8 101.8 0 0 1 179.00 272.72Z" fill="rgb(171, 164, 240)"/>
<path d="M77.9 284.6L178.94 272.19A101.8 101.8 0 0 1 179.20 274.49Z" fill="rgb(170, 163, 240)"/>
<path d="M77.9 284.6L179.14 273.96A101.8 101.8 0 0 1 179.36 276.26Z" fill="rgb(170, 162, 239)"/>
<path d="M77.9 284.6L179.31 275.73A101.8 101.8 0 0 1 179.49 278.03Z" fill="rgb(169, 162, 239)"/>
<path d="M77.9 284.6L179.45 277.50A101.8 101.8 0 0 1 179.59 279.80Z" fill="rgb(168, 161, 239)"/>
<path d="M77.9 284.6L179.56 279.27A101.8 101.8 0 0 1 179.66 281.58Z" fill="rgb(168, 160, 239)"/>
<path d="M77.9 284.6L179.64 281.05A101.8 101.8 0 0 1 179.69 283.36Z" fill="rgb(167, 159, 238)"/>
<path d="M77.9 284.6L179.68 282.82A101.8 101.8 0 0 1 179.70 284.60Z" fill="rgb(166, 158, 238)"/>
<path d="M57.71 189.62A97.10 97.10 0 0 1 175.00 284.60M58.69 194.22A92.40 92.40 0 0 1 170.30 284.60M59.67 198.82A87.70 87.70 0 0 1 165.60 284.60M60.64 203.41A83.00 83.00 0 0 1 160.90 284.60M61.62 208.01A78.30 78.30 0 0 1 156.20 284.60M62.60 212.61A73.60 73.60 0 0 1 151.50 284.60M63.57 217.21A68.90 68.90 0 0 1 146.80 284.60M64.55 221.80A64.20 64.20 0 0 1 142.10 284.60M65.53 226.40A59.50 59.50 0 0 1 137.40 284.60M66.51 231.00A54.80 54.80 0 0 1 132.70 284.60M67.48 235.59A50.10 50.10 0 0 1 128.00 284.60M68.46 240.19A45.40 45.40 0 0 1 123.30 284.60M69.44 244.79A40.70 40.70 0 0 1 118.60 284.60M70.42 249.39A36.00 36.00 0 0 1 113.90 284.60M71.39 253.98A31.30 31.30 0 0 1 109.20 284.60M72.37 258.58A26.60 26.60 0 0 1 104.50 284.60M73.35 263.18A21.90 21.90 0 0 1 99.80 284.60M74.32 267.78A17.20 17.20 0 0 1 95.10 284.60M75.30 272.37A12.50 12.50 0 0 1 90.40 284.60" fill="none" stroke="#7f86aa" stroke-opacity="0.42" stroke-width="0.5"/>
<polyline points="80.5,227.7 128.4,232.7 151.0,259.0" fill="none" stroke="#55b84a" stroke-width="0.6" stroke-linejoin="round"/>
<polyline points="108.2,220.1 141.0,249.0 150.0,262.0" fill="none" stroke="#55b84a" stroke-width="0.6" stroke-linejoin="round"/>
<polyline points="125.9,218.9 151.0,257.9" fill="none" stroke="#55b84a" stroke-width="0.6" stroke-linejoin="round"/>
<polyline points="136.0,225.0 153.6,256.6 160.0,268.0" fill="none" stroke="#55b84a" stroke-width="0.6" stroke-linejoin="round"/>
<polyline points="86.0,272.0 139.0,228.0" fill="none" stroke="#55b84a" stroke-width="0.6" stroke-linejoin="round"/>
<polyline points="95.0,240.0 118.0,228.0 128.0,225.0 160.0,270.0" fill="none" stroke="#55b84a" stroke-width="0.6" stroke-linejoin="round"/>
<polyline points="88.0,265.0 100.0,252.0 115.0,260.0 125.0,245.0 135.0,262.0 150.0,250.0 160.0,272.0" fill="none" stroke="#55b84a" stroke-width="0.6" stroke-linejoin="round"/>
<polyline points="90.0,275.0 105.0,262.0 98.0,250.0 112.0,248.0 120.0,270.0" fill="none" stroke="#55b84a" stroke-width="0.6" stroke-linejoin="round"/>
<polyline points="92.0,258.0 96.0,245.0 110.0,255.0 104.0,270.0 130.0,262.0" fill="none" stroke="#55b84a" stroke-width="0.6" stroke-linejoin="round"/>
<polyline points="85.0,262.0 92.0,270.0 100.0,262.0 108.0,273.0 118.0,262.0 128.0,272.0" fill="none" stroke="#55b84a" stroke-width="0.6" stroke-linejoin="round"/>
<polyline points="128.4,255.4 161.0,273.0" fill="none" stroke="#55b84a" stroke-width="0.6" stroke-linejoin="round"/>
<polyline points="110.0,232.0 140.0,245.0 155.0,265.0" fill="none" stroke="#55b84a" stroke-width="0.6" stroke-linejoin="round"/>
<polyline points="97.0,228.0 137.0,238.0 160.0,255.0" fill="none" stroke="#55b84a" stroke-width="0.6" stroke-linejoin="round"/>
<polyline points="88.0,258.0 125.0,240.0 145.0,262.0" fill="none" stroke="#55b84a" stroke-width="0.6" stroke-linejoin="round"/>
<polyline points="92.0,270.0 112.0,236.0 120.0,228.0" fill="none" stroke="#55b84a" stroke-width="0.6" stroke-linejoin="round"/>
<polyline points="86.0,268.0 96.0,246.0 104.0,240.0" fill="none" stroke="#55b84a" stroke-width="0.6" stroke-linejoin="round"/>
<polyline points="95.0,272.0 128.0,250.0 145.0,270.0" fill="none" stroke="#55b84a" stroke-width="0.6" stroke-linejoin="round"/>
<polyline points="100.0,276.0 118.0,250.0 140.0,248.0 152.0,265.0" fill="none" stroke="#55b84a" stroke-width="0.6" stroke-linejoin="round"/>
<polyline points="90.0,262.0 102.0,248.0 96.0,240.0 106.0,246.0" fill="none" stroke="#55b84a" stroke-width="0.6" stroke-linejoin="round"/>
<polyline points="112.0,224.0 134.0,252.0" fill="none" stroke="#55b84a" stroke-width="0.6" stroke-linejoin="round"/>
<polyline points="87.0,250.0 95.0,262.0 90.0,272.0 102.0,268.0 98.0,256.0 110.0,262.0" fill="none" stroke="#55b84a" stroke-width="0.6" stroke-linejoin="round"/>
<polyline points="92.0,252.0 104.0,258.0 100.0,272.0 112.0,266.0 118.0,255.0" fill="none" stroke="#55b84a" stroke-width="0.6" stroke-linejoin="round"/>
<polyline points="86.0,258.0 94.0,266.0 106.0,252.0 114.0,270.0 124.0,262.0" fill="none" stroke="#55b84a" stroke-width="0.6" stroke-linejoin="round"/>
<polyline points="100.0,246.0 108.0,262.0 116.0,250.0 122.0,266.0" fill="none" stroke="#55b84a" stroke-width="0.6" stroke-linejoin="round"/>
<polyline points="89.0,245.0 99.0,236.0 106.0,256.0 118.0,244.0" fill="none" stroke="#55b84a" stroke-width="0.6" stroke-linejoin="round"/>
<polyline points="96.0,265.0 104.0,276.0 112.0,262.0" fill="none" stroke="#55b84a" stroke-width="0.6" stroke-linejoin="round"/>
<polyline points="103.2,263.0 173.7,273.0" fill="none" stroke="#d23c3c" stroke-width="0.55" stroke-linejoin="round"/>
<polyline points="86.0,258.0 102.8,241.7 122.0,252.0 145.0,262.0" fill="none" stroke="#d23c3c" stroke-width="0.55" stroke-linejoin="round"/>
<polyline points="88.0,262.0 93.0,250.0 100.0,268.0 108.0,255.0 118.0,270.0 128.0,262.0" fill="none" stroke="#d23c3c" stroke-width="0.55" stroke-linejoin="round"/>
<polyline points="95.0,276.0 100.0,262.0 112.0,270.0 120.0,262.0 135.0,268.0" fill="none" stroke="#d23c3c" stroke-width="0.55" stroke-linejoin="round"/>
<polyline points="85.0,250.0 90.0,270.0 98.0,278.0" fill="none" stroke="#d23c3c" stroke-width="0.55" stroke-linejoin="round"/>
<polyline points="86.0,245.0 98.0,242.0 92.0,256.0 104.0,264.0" fill="none" stroke="#d23c3c" stroke-width="0.55" stroke-linejoin="round"/>
<polyline points="99.0,244.0 112.0,252.0 106.0,262.0 125.0,270.0" fill="none" stroke="#d23c3c" stroke-width="0.55" stroke-linejoin="round"/>
<polyline points="90.0,240.0 96.0,252.0 88.0,262.0" fill="none" stroke="#d23c3c" stroke-width="0.55" stroke-linejoin="round"/>
<polyline points="102.0,250.0 110.0,244.0 116.0,258.0" fill="none" stroke="#d23c3c" stroke-width="0.55" stroke-linejoin="round"/>
<polyline points="94.4,208.8 91.9,222.6 120.8,246.6 128.4,255.4" fill="none" stroke="#3a3ad8" stroke-width="0.65" stroke-linejoin="round"/>
<polyline points="79.3,226.4 112.0,240.3 130.9,254.1" fill="none" stroke="#3a3ad8" stroke-width="0.65" stroke-linejoin="round"/>
<polyline points="90.6,223.9 113.3,237.7 125.0,247.0" fill="none" stroke="#3a3ad8" stroke-width="0.65" stroke-linejoin="round"/>
<polyline points="110.0,245.0 120.0,258.0 100.0,268.0 92.0,276.0" fill="none" stroke="#3a3ad8" stroke-width="0.65" stroke-linejoin="round"/>
<polyline points="98.0,262.0 104.0,252.0 112.0,262.0" fill="none" stroke="#3a3ad8" stroke-width="0.65" stroke-linejoin="round"/>
<polyline points="93.0,258.0 100.0,270.0 108.0,262.0 104.0,252.0" fill="none" stroke="#3a3ad8" stroke-width="0.65" stroke-linejoin="round"/>
<polyline points="93.5,276 98.4,270 104.5,266.3 109.4,265 114.3,260 118,257.7 122.2,254 129.4,254.9 137.4,258.5 132,244.1 147.3,254 141,242.3 133,213.6" fill="none" stroke="#111" stroke-width="1.4" stroke-linejoin="round"/>
</g>
<text x="120.6" y="279.8" font-size="5.9" fill="#fff" textLength="11.8" lengthAdjust="spacingAndGlyphs" font-family="Liberation Sans, Arial, sans-serif">Cape</text>
<text x="118.2" y="286.4" font-size="5.9" fill="#fff" textLength="17.7" lengthAdjust="spacingAndGlyphs" font-family="Liberation Sans, Arial, sans-serif">Tatnam</text>
<path d="M76.3 283.7V290.5M72.9 287.1H79.7" stroke="#000" stroke-width="1.6"/>
<text x="140.6" y="183.6" font-size="5.2" font-style="italic" fill="#444" font-family="Liberation Sans, Arial, sans-serif">a</text>
<text x="143.4" y="185.2" font-size="3.1" font-style="italic" fill="#444" textLength="10.6" lengthAdjust="spacingAndGlyphs" font-family="Liberation Sans, Arial, sans-serif">CDOM</text>
<text x="144.6" y="180.6" font-size="2.6" font-style="italic" fill="#444" textLength="7" lengthAdjust="spacingAndGlyphs" font-family="Liberation Sans, Arial, sans-serif">river</text>
<text x="156.8" y="183.9" font-size="5.4" font-style="italic" fill="#404040" stroke="#404040" stroke-width="0.15" textLength="52" lengthAdjust="spacingAndGlyphs" font-family="Liberation Sans, Arial, sans-serif">weighted direction (°)</text>
<text x="21.8" y="185" font-size="9" fill="#111" stroke="#111" stroke-width="0.3" font-family="Liberation Sans, Arial, sans-serif">b.</text>
<rect x="21.5" y="226.6" width="42.5" height="41.8" fill="#fff" stroke="#999" stroke-width="0.4"/>
<circle cx="42.8" cy="247" r="2.10" fill="none" stroke="#d4d4d4" stroke-width="0.35"/><circle cx="42.8" cy="247" r="4.20" fill="none" stroke="#d4d4d4" stroke-width="0.35"/><circle cx="42.8" cy="247" r="6.30" fill="none" stroke="#d4d4d4" stroke-width="0.35"/><circle cx="42.8" cy="247" r="8.40" fill="none" stroke="#d4d4d4" stroke-width="0.35"/><circle cx="42.8" cy="247" r="10.50" fill="none" stroke="#d4d4d4" stroke-width="0.35"/><circle cx="42.8" cy="247" r="12.60" fill="none" stroke="#d4d4d4" stroke-width="0.35"/><circle cx="42.8" cy="247" r="14.70" fill="none" stroke="#d4d4d4" stroke-width="0.35"/><circle cx="42.8" cy="247" r="16.80" fill="none" stroke="#d4d4d4" stroke-width="0.35"/><circle cx="42.8" cy="247" r="18.90" fill="none" stroke="#d4d4d4" stroke-width="0.35"/>
<path d="M24.4 247H61.9M42.8 229.1V267" stroke="#444" stroke-width="0.35"/>
<path d="M24.4 246v2M61.199999999999996 246v2M41.8 229.5h2" stroke="#222" stroke-width="0.9"/>
<path d="M25.5 229.5h2" stroke="#888" stroke-width="0.5"/>
<path d="M28.7 232.8h2" stroke="#888" stroke-width="0.5"/>
<path d="M31.9 236.1h2" stroke="#888" stroke-width="0.5"/>
<path d="M35.1 239.4h2" stroke="#888" stroke-width="0.5"/>
<path d="M38.3 242.7h2" stroke="#888" stroke-width="0.5"/>
<g transform="rotate(33 42.8 247)"><rect x="41.8" y="248.5" width="2" height="4.8" fill="#a6d88c"/><rect x="40.5" y="253.5" width="4.6" height="5.8" fill="#f2b45a"/><rect x="39.599999999999994" y="259.8" width="6.4" height="4.2" fill="#9c0f3c"/></g>
<rect x="41.8" y="248.5" width="2" height="5.8" fill="#a6d88c"/><rect x="40.5" y="255" width="4.6" height="7.2" fill="#f2b45a"/><rect x="39.8" y="263.3" width="6" height="4.3" fill="#9c0f3c"/>
<path d="M39.9 245.1H46.5" stroke="#9c0f3c" stroke-width="0.9"/><path d="M44.3 250L47.2 247.8" stroke="#9c0f3c" stroke-width="0.8"/>
<rect x="21.8" y="270.4" width="42" height="15.5" fill="#fff" stroke="#999" stroke-width="0.4"/>
<path d="M24 275H32.4" stroke="#b9a9e0" stroke-width="0.6"/><path d="M32.4 275H40.8" stroke="#bfe0a0" stroke-width="0.8"/><path d="M40.8 275H52" stroke="#f2c060" stroke-width="1.4"/><path d="M52.2 274.9H61.8" stroke="#9c0f3c" stroke-width="2.2"/>
<text x="28.5" y="273" font-size="2.2" fill="#555" text-anchor="middle" font-family="Liberation Sans, Arial, sans-serif">0-2</text>
<text x="37" y="273" font-size="2.2" fill="#555" text-anchor="middle" font-family="Liberation Sans, Arial, sans-serif">2-4</text>
<text x="46.5" y="273" font-size="2.2" fill="#555" text-anchor="middle" font-family="Liberation Sans, Arial, sans-serif">4-6</text>
<text x="57" y="273" font-size="2.2" fill="#555" text-anchor="middle" font-family="Liberation Sans, Arial, sans-serif">6-10+</text>
<text x="22.7" y="284.3" font-size="5.2" fill="#111" stroke="#111" stroke-width="0.1" textLength="40.7" lengthAdjust="spacingAndGlyphs" font-family="Liberation Sans, Arial, sans-serif">Wind speed (m s<tspan font-size="2.6" dy="-1.6">-1</tspan><tspan dy="1.6">)</tspan></text>
</g>
<rect x="16.5" y="175.1" width="202.2" height="121.4" fill="none" stroke="#fff" stroke-width="1.8"/>
<path d="M16.5 175.1H30.0M45.5 175.1H60.9M76.3 175.1H91.8M107.2 175.1H122.7M138.2 175.1H153.6M169.1 175.1H184.5M199.9 175.1H215.4M16.5 296.5H30.0M45.5 296.5H60.9M76.3 296.5H91.8M107.2 296.5H122.7M138.2 296.5H153.6M169.1 296.5H184.5M199.9 296.5H215.4M16.5 175.1V178.2M16.5 183.5V190.1M16.5 195.4V202.0M16.5 207.4V214.0M16.5 219.3V225.9M16.5 231.3V237.9M16.5 243.2V249.8M16.5 255.1V261.7M16.5 267.1V273.7M16.5 279.0V285.6M16.5 291.0V296.5M218.7 175.1V181.0M218.7 186.2V192.6M218.7 197.8V204.2M218.7 209.4V215.8M218.7 221.0V227.4M218.7 232.6V239.0M218.7 244.2V250.6M218.7 255.8V262.2M218.7 267.4V273.8M218.7 279.0V285.4M218.7 290.6V296.5" stroke="#111" stroke-width="1.9" fill="none"/>
<rect x="16.5" y="175.1" width="202.2" height="121.4" fill="none" stroke="#555" stroke-width="0.25"/>
<text x="30.0" y="302.8" font-size="4" font-style="italic" font-weight="bold" fill="#222" text-anchor="middle" font-family="Liberation Sans, Arial, sans-serif">94°W</text>
<text x="60.9" y="302.8" font-size="4" font-style="italic" font-weight="bold" fill="#222" text-anchor="middle" font-family="Liberation Sans, Arial, sans-serif">93°W</text>
<text x="91.8" y="302.8" font-size="4" font-style="italic" font-weight="bold" fill="#222" text-anchor="middle" font-family="Liberation Sans, Arial, sans-serif">92°W</text>
<text x="122.7" y="302.8" font-size="4" font-style="italic" font-weight="bold" fill="#222" text-anchor="middle" font-family="Liberation Sans, Arial, sans-serif">91°W</text>
<text x="153.6" y="302.8" font-size="4" font-style="italic" font-weight="bold" fill="#222" text-anchor="middle" font-family="Liberation Sans, Arial, sans-serif">90°W</text>
<text x="184.5" y="302.8" font-size="4" font-style="italic" font-weight="bold" fill="#222" text-anchor="middle" font-family="Liberation Sans, Arial, sans-serif">89°W</text>
<text x="215.4" y="302.8" font-size="4" font-style="italic" font-weight="bold" fill="#222" text-anchor="middle" font-family="Liberation Sans, Arial, sans-serif">88°W</text>
<text x="15.4" y="205.4" font-size="4.1" font-style="italic" font-weight="bold" fill="#222" text-anchor="end" font-family="Liberation Sans, Arial, sans-serif">58.5°N</text>
<text x="15.4" y="234.9" font-size="4.1" font-style="italic" font-weight="bold" fill="#222" text-anchor="end" font-family="Liberation Sans, Arial, sans-serif">58°N</text>
<text x="15.4" y="263.4" font-size="4.1" font-style="italic" font-weight="bold" fill="#222" text-anchor="end" font-family="Liberation Sans, Arial, sans-serif">57.5°N</text>
<text x="15.4" y="292.9" font-size="4.1" font-style="italic" font-weight="bold" fill="#222" text-anchor="end" font-family="Liberation Sans, Arial, sans-serif">57°N</text>
<text transform="translate(221.3 293.6) rotate(-90)" font-size="2.3" fill="#777" textLength="16" lengthAdjust="spacingAndGlyphs" font-family="Liberation Sans, Arial, sans-serif">Esri, GEBCO, NOAA</text>
<linearGradient id="cbar" x1="0" y1="0" x2="0" y2="1"><stop offset="0" stop-color="#9d94d6"/><stop offset="0.45" stop-color="#b8bdf0"/><stop offset="1" stop-color="#f2f5fd"/></linearGradient>
<rect x="223" y="174.5" width="5.8" height="122" rx="2.5" fill="url(#cbar)"/>
<path d="M223 186.4h1M227.8 186.4h1" stroke="#888" stroke-width="0.4"/>
<text x="230.4" y="187.6" font-size="3.4" font-style="italic" font-weight="bold" fill="#333" font-family="Liberation Sans, Arial, sans-serif">80</text>
<path d="M223 208.4h1M227.8 208.4h1" stroke="#888" stroke-width="0.4"/>
<text x="230.4" y="209.6" font-size="3.4" font-style="italic" font-weight="bold" fill="#333" font-family="Liberation Sans, Arial, sans-serif">60</text>
<path d="M223 230.4h1M227.8 230.4h1" stroke="#888" stroke-width="0.4"/>
<text x="230.4" y="231.6" font-size="3.4" font-style="italic" font-weight="bold" fill="#333" font-family="Liberation Sans, Arial, sans-serif">40</text>
<path d="M223 252.4h1M227.8 252.4h1" stroke="#888" stroke-width="0.4"/>
<text x="230.4" y="253.6" font-size="3.4" font-style="italic" font-weight="bold" fill="#333" font-family="Liberation Sans, Arial, sans-serif">20</text>
<path d="M223 274.4h1M227.8 274.4h1" stroke="#888" stroke-width="0.4"/>
<text x="230.4" y="275.6" font-size="3.4" font-style="italic" font-weight="bold" fill="#333" font-family="Liberation Sans, Arial, sans-serif">0</text>
<path d="M223 296.4h1M227.8 296.4h1" stroke="#888" stroke-width="0.4"/>
<text x="230.4" y="297.6" font-size="3.4" font-style="italic" font-weight="bold" fill="#333" font-family="Liberation Sans, Arial, sans-serif">-20</text>
<text x="212.8" y="172" font-size="4.6" font-style="italic" fill="#333" textLength="25.4" lengthAdjust="spacingAndGlyphs" font-family="Liberation Sans, Arial, sans-serif">Bearing(°)</text>
<clipPath id="cc"><rect x="257.5" y="75.8" width="245.8" height="175.4"/></clipPath>
<filter id="bl3" filterUnits="userSpaceOnUse" x="240" y="60" width="290" height="210"><feGaussianBlur stdDeviation="3"/></filter>
<filter id="bl8" filterUnits="userSpaceOnUse" x="200" y="30" width="340" height="260"><feGaussianBlur stdDeviation="9"/></filter>
<filter id="bl1" filterUnits="userSpaceOnUse" x="240" y="60" width="290" height="210"><feGaussianBlur stdDeviation="0.7"/></filter>
<linearGradient id="wbase" gradientUnits="userSpaceOnUse" x1="300" y1="200" x2="480" y2="90"><stop offset="0" stop-color="#9cb6a6"/><stop offset="0.4" stop-color="#8ea9b2"/><stop offset="0.7" stop-color="#819bbd"/><stop offset="1" stop-color="#7490c8"/></linearGradient>
<g clip-path="url(#cc)">
<rect x="257.5" y="75.8" width="245.8" height="175.4" fill="url(#wbase)"/>
<filter id="bl20" filterUnits="userSpaceOnUse" x="180" y="0" width="400" height="320"><feGaussianBlur stdDeviation="16"/></filter>
<filter id="bl10" filterUnits="userSpaceOnUse" x="180" y="0" width="400" height="320"><feGaussianBlur stdDeviation="8"/></filter>
<path d="M302.8 171.0 L306.5 178.5 L312.0 187.0 L316.5 191.5 L320.5 196.0 L324.0 203.0 L325.6 209.4 L325.8 216.0 L324.4 221.5 L320.0 228.3 L312.0 234.0 L301.8 240.8 L306.0 240.2 L315.0 237.3 L326.0 233.5 L337.0 231.0 L349.4 229.6 L364.0 226.6 L380.0 223.9 L394.7 220.1 L409.4 217.6 L424.1 215.3 L433.0 214.3 L440.0 215.6 L456.3 220.2 L472.7 225.8 L489.0 230.9 L500.5 235.0 L510.0 238.0" fill="none" stroke="#b2c896" stroke-width="150" stroke-linejoin="round" filter="url(#bl20)" opacity="0.7"/>
<path d="M302.8 171.0 L306.5 178.5 L312.0 187.0 L316.5 191.5 L320.5 196.0 L324.0 203.0 L325.6 209.4 L325.8 216.0 L324.4 221.5 L320.0 228.3 L312.0 234.0 L301.8 240.8 L306.0 240.2 L315.0 237.3 L326.0 233.5 L337.0 231.0 L349.4 229.6 L364.0 226.6 L380.0 223.9 L394.7 220.1 L409.4 217.6 L424.1 215.3 L433.0 214.3 L440.0 215.6 L456.3 220.2 L472.7 225.8 L489.0 230.9 L500.5 235.0 L510.0 238.0" fill="none" stroke="#bdd48e" stroke-width="70" stroke-linejoin="round" filter="url(#bl10)" opacity="0.4"/>
<path d="M250.0 117.0 L257.5 117.0 L265.0 116.0 L270.5 115.4 L275.6 118.3 L277.6 125.2 L279.5 133.0 L283.5 139.8 L288.4 146.7 L294.2 153.5 L298.2 159.4 L301.0 164.5 L302.8 171.0 L306.5 178.5 L312.0 187.0 L316.5 191.5 L320.5 196.0 L324.0 203.0 L325.6 209.4 L325.8 216.0 L324.4 221.5 L320.0 228.3 L312.0 234.0 L301.8 240.8 L306.0 240.2 L315.0 237.3 L326.0 233.5 L337.0 231.0 L349.4 229.6 L364.0 226.6 L380.0 223.9 L394.7 220.1 L409.4 217.6 L424.1 215.3 L433.0 214.3 L440.0 215.6 L456.3 220.2 L472.7 225.8 L489.0 230.9 L500.5 235.0 L510.0 238.0" fill="none" stroke="#b6cf92" stroke-width="40" stroke-linejoin="round" filter="url(#bl10)" opacity="0.6"/>
<ellipse cx="495" cy="95" rx="45" ry="35" fill="#7592cc" opacity="0.5" filter="url(#bl10)"/>
<circle cx="336.1" cy="161.3" r="0.9" fill="#d6f28a" opacity="0.77"/>
<circle cx="266.5" cy="92.0" r="1.0" fill="#d6f28a" opacity="0.40"/>
<circle cx="307.4" cy="141.5" r="0.5" fill="#d6f28a" opacity="0.45"/>
<circle cx="316.5" cy="113.6" r="1.0" fill="#d6f28a" opacity="0.41"/>
<circle cx="312.3" cy="165.5" r="0.6" fill="#d6f28a" opacity="0.45"/>
<circle cx="355.8" cy="187.1" r="0.8" fill="#d6f28a" opacity="0.66"/>
<circle cx="318.3" cy="121.1" r="1.0" fill="#d6f28a" opacity="0.48"/>
<circle cx="296.3" cy="131.8" r="0.7" fill="#d6f28a" opacity="0.62"/>
<circle cx="258.6" cy="83.6" r="1.0" fill="#d6f28a" opacity="0.57"/>
<circle cx="306.2" cy="123.6" r="1.1" fill="#d6f28a" opacity="0.36"/>
<circle cx="336.0" cy="162.1" r="0.7" fill="#d6f28a" opacity="0.61"/>
<circle cx="260.9" cy="107.4" r="0.6" fill="#d6f28a" opacity="0.69"/>
<circle cx="349.5" cy="168.4" r="0.8" fill="#d6f28a" opacity="0.70"/>
<circle cx="293.3" cy="90.5" r="0.5" fill="#d6f28a" opacity="0.78"/>
<circle cx="284.1" cy="101.2" r="0.7" fill="#d6f28a" opacity="0.77"/>
<circle cx="314.8" cy="148.1" r="0.5" fill="#d6f28a" opacity="0.42"/>
<circle cx="340.1" cy="153.3" r="1.1" fill="#d6f28a" opacity="0.59"/>
<circle cx="302.9" cy="137.9" r="0.8" fill="#d6f28a" opacity="0.54"/>
<circle cx="262.5" cy="76.4" r="1.0" fill="#d6f28a" opacity="0.41"/>
<circle cx="341.4" cy="158.5" r="0.6" fill="#d6f28a" opacity="0.55"/>
<circle cx="310.9" cy="111.2" r="1.1" fill="#d6f28a" opacity="0.73"/>
<circle cx="344.7" cy="191.0" r="0.8" fill="#d6f28a" opacity="0.48"/>
<circle cx="299.2" cy="140.5" r="1.1" fill="#d6f28a" opacity="0.63"/>
<circle cx="310.3" cy="142.4" r="1.0" fill="#d6f28a" opacity="0.74"/>
<circle cx="316.3" cy="124.1" r="0.9" fill="#d6f28a" opacity="0.69"/>
<circle cx="311.3" cy="124.6" r="1.0" fill="#d6f28a" opacity="0.66"/>
<circle cx="317.4" cy="117.1" r="0.5" fill="#d6f28a" opacity="0.60"/>
<circle cx="309.8" cy="127.2" r="0.9" fill="#d6f28a" opacity="0.71"/>
<circle cx="311.5" cy="126.3" r="0.7" fill="#d6f28a" opacity="0.73"/>
<circle cx="341.5" cy="171.1" r="0.8" fill="#d6f28a" opacity="0.59"/>
<circle cx="315.1" cy="113.2" r="0.9" fill="#d6f28a" opacity="0.67"/>
<circle cx="321.3" cy="170.7" r="0.9" fill="#d6f28a" opacity="0.54"/>
<circle cx="336.2" cy="159.7" r="0.5" fill="#d6f28a" opacity="0.42"/>
<circle cx="313.2" cy="131.4" r="0.9" fill="#d6f28a" opacity="0.37"/>
<circle cx="304.1" cy="139.5" r="0.7" fill="#d6f28a" opacity="0.43"/>
<circle cx="288.5" cy="123.2" r="0.9" fill="#d6f28a" opacity="0.62"/>
<circle cx="313.9" cy="121.6" r="0.7" fill="#d6f28a" opacity="0.53"/>
<circle cx="292.8" cy="83.6" r="0.9" fill="#d6f28a" opacity="0.39"/>
<circle cx="317.1" cy="152.4" r="1.0" fill="#d6f28a" opacity="0.54"/>
<circle cx="336.5" cy="167.6" r="0.9" fill="#d6f28a" opacity="0.60"/>
<circle cx="359.2" cy="179.5" r="1.0" fill="#d6f28a" opacity="0.35"/>
<circle cx="289.3" cy="91.2" r="0.9" fill="#d6f28a" opacity="0.75"/>
<circle cx="304.7" cy="129.6" r="1.1" fill="#d6f28a" opacity="0.52"/>
<circle cx="357.7" cy="180.1" r="1.1" fill="#d6f28a" opacity="0.57"/>
<circle cx="307.9" cy="135.0" r="0.7" fill="#d6f28a" opacity="0.56"/>
<circle cx="304.1" cy="109.3" r="1.0" fill="#d6f28a" opacity="0.72"/>
<circle cx="259.9" cy="91.8" r="1.0" fill="#d6f28a" opacity="0.46"/>
<circle cx="296.2" cy="125.6" r="0.9" fill="#d6f28a" opacity="0.56"/>
<circle cx="332.2" cy="159.9" r="1.0" fill="#d6f28a" opacity="0.49"/>
<circle cx="313.6" cy="147.1" r="0.8" fill="#d6f28a" opacity="0.51"/>
<circle cx="329.0" cy="162.8" r="0.8" fill="#d6f28a" opacity="0.76"/>
<circle cx="335.0" cy="175.9" r="0.8" fill="#d6f28a" opacity="0.61"/>
<circle cx="332.5" cy="165.5" r="0.7" fill="#d6f28a" opacity="0.53"/>
<circle cx="324.9" cy="180.0" r="0.5" fill="#d6f28a" opacity="0.73"/>
<circle cx="324.9" cy="166.2" r="1.0" fill="#d6f28a" opacity="0.41"/>
<circle cx="315.2" cy="134.6" r="0.6" fill="#d6f28a" opacity="0.61"/>
<circle cx="320.1" cy="181.6" r="1.0" fill="#d6f28a" opacity="0.65"/>
<circle cx="265.5" cy="85.9" r="0.9" fill="#d6f28a" opacity="0.37"/>
<circle cx="326.7" cy="179.5" r="0.9" fill="#d6f28a" opacity="0.41"/>
<circle cx="313.6" cy="117.5" r="0.7" fill="#d6f28a" opacity="0.42"/>
<circle cx="310.5" cy="163.8" r="0.5" fill="#d6f28a" opacity="0.38"/>
<circle cx="331.8" cy="144.2" r="0.8" fill="#d6f28a" opacity="0.49"/>
<circle cx="328.5" cy="157.6" r="0.5" fill="#d6f28a" opacity="0.66"/>
<circle cx="305.7" cy="116.0" r="0.8" fill="#d6f28a" opacity="0.63"/>
<circle cx="302.5" cy="121.5" r="0.8" fill="#d6f28a" opacity="0.41"/>
<circle cx="301.7" cy="123.9" r="0.9" fill="#d6f28a" opacity="0.64"/>
<circle cx="285.6" cy="87.0" r="0.9" fill="#d6f28a" opacity="0.46"/>
<circle cx="334.4" cy="176.5" r="0.5" fill="#d6f28a" opacity="0.68"/>
<circle cx="270.4" cy="101.9" r="0.6" fill="#d6f28a" opacity="0.40"/>
<circle cx="352.5" cy="184.1" r="0.9" fill="#d6f28a" opacity="0.51"/>
<circle cx="299.8" cy="125.3" r="0.7" fill="#d6f28a" opacity="0.41"/>
<circle cx="336.5" cy="165.8" r="1.0" fill="#d6f28a" opacity="0.58"/>
<circle cx="327.2" cy="150.1" r="0.6" fill="#d6f28a" opacity="0.36"/>
<circle cx="291.4" cy="124.8" r="1.0" fill="#d6f28a" opacity="0.35"/>
<circle cx="323.6" cy="127.4" r="0.8" fill="#d6f28a" opacity="0.39"/>
<circle cx="290.5" cy="117.5" r="1.0" fill="#d6f28a" opacity="0.42"/>
<circle cx="293.8" cy="122.3" r="0.6" fill="#d6f28a" opacity="0.57"/>
<circle cx="261.8" cy="79.1" r="0.9" fill="#d6f28a" opacity="0.65"/>
<circle cx="322.0" cy="127.8" r="0.7" fill="#d6f28a" opacity="0.65"/>
<circle cx="317.5" cy="167.4" r="0.6" fill="#d6f28a" opacity="0.39"/>
<circle cx="319.1" cy="119.1" r="0.8" fill="#d6f28a" opacity="0.48"/>
<circle cx="332.4" cy="159.3" r="0.9" fill="#d6f28a" opacity="0.77"/>
<circle cx="328.3" cy="160.8" r="0.5" fill="#d6f28a" opacity="0.70"/>
<circle cx="298.2" cy="143.2" r="0.8" fill="#d6f28a" opacity="0.51"/>
<circle cx="281.8" cy="106.3" r="1.1" fill="#d6f28a" opacity="0.37"/>
<circle cx="289.9" cy="126.6" r="0.7" fill="#d6f28a" opacity="0.53"/>
<circle cx="289.8" cy="135.1" r="0.6" fill="#d6f28a" opacity="0.58"/>
<circle cx="306.7" cy="128.4" r="0.6" fill="#d6f28a" opacity="0.59"/>
<circle cx="343.8" cy="174.2" r="0.5" fill="#d6f28a" opacity="0.59"/>
<circle cx="317.4" cy="139.1" r="0.9" fill="#d6f28a" opacity="0.76"/>
<circle cx="443.0" cy="191.2" r="0.9" fill="#d6f28a" opacity="0.45"/>
<circle cx="461.6" cy="187.2" r="0.5" fill="#d6f28a" opacity="0.70"/>
<circle cx="456.6" cy="174.9" r="0.6" fill="#d6f28a" opacity="0.39"/>
<circle cx="450.2" cy="185.8" r="0.7" fill="#d6f28a" opacity="0.61"/>
<circle cx="450.2" cy="185.2" r="0.9" fill="#d6f28a" opacity="0.37"/>
<circle cx="454.6" cy="189.0" r="0.7" fill="#d6f28a" opacity="0.39"/>
<circle cx="436.3" cy="185.7" r="0.9" fill="#d6f28a" opacity="0.60"/>
<circle cx="470.8" cy="174.0" r="0.9" fill="#d6f28a" opacity="0.61"/>
<circle cx="419.0" cy="187.9" r="0.8" fill="#d6f28a" opacity="0.78"/>
<circle cx="446.1" cy="168.1" r="0.6" fill="#d6f28a" opacity="0.72"/>
<circle cx="443.0" cy="185.2" r="0.5" fill="#d6f28a" opacity="0.43"/>
<circle cx="447.9" cy="195.5" r="0.6" fill="#d6f28a" opacity="0.38"/>
<circle cx="452.0" cy="170.6" r="0.5" fill="#d6f28a" opacity="0.37"/>
<circle cx="461.6" cy="188.2" r="0.9" fill="#d6f28a" opacity="0.78"/>
<circle cx="440.1" cy="177.8" r="0.7" fill="#d6f28a" opacity="0.51"/>
<circle cx="448.6" cy="183.2" r="0.8" fill="#d6f28a" opacity="0.72"/>
<circle cx="448.8" cy="178.0" r="0.8" fill="#d6f28a" opacity="0.43"/>
<circle cx="445.1" cy="172.5" r="1.0" fill="#d6f28a" opacity="0.71"/>
<circle cx="461.6" cy="187.3" r="1.0" fill="#d6f28a" opacity="0.56"/>
<circle cx="432.2" cy="185.9" r="0.9" fill="#d6f28a" opacity="0.77"/>
<circle cx="403.4" cy="177.2" r="0.8" fill="#d6f28a" opacity="0.40"/>
<circle cx="457.4" cy="173.4" r="0.5" fill="#d6f28a" opacity="0.79"/>
<circle cx="473.1" cy="184.4" r="0.7" fill="#d6f28a" opacity="0.75"/>
<circle cx="440.2" cy="185.9" r="0.6" fill="#d6f28a" opacity="0.44"/>
<circle cx="434.4" cy="178.8" r="0.9" fill="#d6f28a" opacity="0.46"/>
<circle cx="386.5" cy="189.8" r="1.0" fill="#d6f28a" opacity="0.73"/>
<circle cx="424.4" cy="176.0" r="0.7" fill="#d6f28a" opacity="0.41"/>
<circle cx="417.1" cy="176.9" r="0.5" fill="#d6f28a" opacity="0.43"/>
<circle cx="438.8" cy="192.4" r="1.0" fill="#d6f28a" opacity="0.44"/>
<circle cx="407.7" cy="178.2" r="0.8" fill="#d6f28a" opacity="0.74"/>
<circle cx="361.5" cy="175.0" r="0.7" fill="#d6f28a" opacity="0.35"/>
<circle cx="360.2" cy="184.2" r="0.6" fill="#d6f28a" opacity="0.53"/>
<circle cx="397.1" cy="186.7" r="0.7" fill="#d6f28a" opacity="0.52"/>
<circle cx="353.8" cy="186.9" r="0.7" fill="#d6f28a" opacity="0.79"/>
<circle cx="427.2" cy="168.4" r="0.8" fill="#d6f28a" opacity="0.65"/>
<circle cx="347.7" cy="181.7" r="0.7" fill="#d6f28a" opacity="0.62"/>
<circle cx="384.4" cy="176.2" r="0.6" fill="#d6f28a" opacity="0.38"/>
<circle cx="424.0" cy="188.9" r="0.8" fill="#d6f28a" opacity="0.69"/>
<circle cx="394.3" cy="178.3" r="1.0" fill="#d6f28a" opacity="0.47"/>
<circle cx="397.5" cy="182.0" r="0.9" fill="#d6f28a" opacity="0.65"/>
<circle cx="334.7" cy="81.1" r="0.8" fill="#d6f28a" opacity="0.73"/>
<circle cx="308.8" cy="77.1" r="0.6" fill="#d6f28a" opacity="0.58"/>
<circle cx="317.0" cy="81.8" r="1.0" fill="#d6f28a" opacity="0.59"/>
<circle cx="309.3" cy="84.2" r="0.7" fill="#d6f28a" opacity="0.43"/>
<circle cx="295.3" cy="75.2" r="1.0" fill="#d6f28a" opacity="0.63"/>
<circle cx="305.6" cy="85.6" r="0.8" fill="#d6f28a" opacity="0.60"/>
<circle cx="307.5" cy="79.3" r="0.9" fill="#d6f28a" opacity="0.45"/>
<circle cx="306.8" cy="87.7" r="0.8" fill="#d6f28a" opacity="0.75"/>
<circle cx="487.0" cy="201.1" r="0.9" fill="#d6f28a" opacity="0.45"/>
<circle cx="491.9" cy="197.5" r="0.9" fill="#d6f28a" opacity="0.75"/>
<circle cx="478.6" cy="189.9" r="0.7" fill="#d6f28a" opacity="0.59"/>
<circle cx="487.0" cy="192.6" r="0.6" fill="#d6f28a" opacity="0.62"/>
<circle cx="486.3" cy="194.3" r="0.5" fill="#d6f28a" opacity="0.40"/>
<circle cx="467.4" cy="192.4" r="0.6" fill="#d6f28a" opacity="0.44"/>
<circle cx="468.1" cy="191.0" r="0.8" fill="#d6f28a" opacity="0.68"/>
<circle cx="490.7" cy="197.2" r="0.9" fill="#d6f28a" opacity="0.78"/>
<path d="M257.5 117.0 L265.0 116.0 L270.5 115.4 L275.6 118.3 L277.6 125.2 L279.5 133.0 L283.5 139.8 L288.4 146.7 L294.2 153.5 L298.2 159.4 L301.0 164.5 L302.8 171.0 L306.5 178.5 L312.0 187.0 L316.5 191.5 L320.5 196.0 L324.0 203.0 L325.6 209.4 L325.8 216.0 L324.4 221.5" fill="none" stroke="#cfe98a" stroke-width="16" stroke-linejoin="round" filter="url(#bl3)" opacity="0.5"/>
<path d="M257.5 117.0 L265.0 116.0 L270.5 115.4 L275.6 118.3 L277.6 125.2 L279.5 133.0 L283.5 139.8 L288.4 146.7 L294.2 153.5 L298.2 159.4 L301.0 164.5 L302.8 171.0 L306.5 178.5 L312.0 187.0 L316.5 191.5 L320.5 196.0 L324.0 203.0 L325.6 209.4 L325.8 216.0 L324.4 221.5" fill="none" stroke="#d8f57a" stroke-width="11" stroke-linejoin="round" filter="url(#bl1)"/>
<filter id="bl2" filterUnits="userSpaceOnUse" x="240" y="60" width="290" height="210"><feGaussianBlur stdDeviation="2"/></filter>
<polygon points="316.2,151.9 317.4,154.3 318.5,156.5 319.6,158.7 320.8,160.6 322.0,162.5 323.0,164.2 324.0,165.9 326.0,168.2 327.9,170.6 329.9,173.4 331.8,176.3 333.3,178.4 334.7,180.6 336.5,182.6 339.3,186.1 343.7,189.2 346.6,193.5 349.5,199.0 351.8,202.7 352.6,206.6 353.1,208.4 350.6,202.9 348.7,199.0 347.7,190.3 339.2,186.5 338.7,185.2 339.8,183.7 340.9,183.6 343.4,183.5 346.0,183.4 348.5,183.4 351.0,183.3 354.0,183.3 357.0,183.2 360.3,183.1 363.6,183.0 366.8,183.0 370.1,183.0 373.3,183.0 376.4,183.0 379.6,182.9 382.7,182.7 385.7,182.6 389.4,182.4 393.2,182.2 396.9,182.3 400.6,182.5 403.5,182.7 406.0,182.8 408.4,183.0 410.8,183.0 413.3,183.0 416.3,183.0 420.1,182.9 423.9,182.8 427.5,183.7 430.8,184.8 433.2,185.9 435.5,186.8 439.4,187.9 443.4,189.1 447.5,190.2 451.4,191.5 454.1,192.4 456.7,193.4 459.7,194.4 462.7,195.4 465.8,195.8 469.0,196.3 471.9,196.7 474.8,197.1 477.7,197.5 480.5,197.8 483.3,198.1 486.0,198.4 488.9,198.8 491.8,199.1 494.9,199.6 498.1,200.0 501.3,200.8 504.6,201.6 507.1,202.1 509.7,202.7 512.2,203.1 514.7,203.5 517.6,204.0 520.6,204.5 511.6,235.9 508.7,235.1 505.8,234.3 502.9,233.5 500.0,232.6 497.1,231.6 494.2,230.6 491.4,229.5 488.5,228.5 485.8,227.7 483.1,226.8 480.4,226.0 477.7,225.1 475.0,224.3 472.2,223.4 469.5,222.5 466.8,221.6 464.0,220.7 461.3,219.8 458.6,218.9 455.9,218.0 453.2,217.3 450.5,216.6 447.8,215.8 445.0,215.1 442.4,214.4 439.8,213.7 437.2,213.6 434.6,213.6 431.9,213.5 429.3,213.3 426.7,213.2 424.1,213.0 421.2,213.2 418.3,213.4 415.4,213.6 412.4,213.8 409.5,214.0 406.5,214.0 403.5,214.0 400.6,214.0 397.7,214.0 394.8,214.0 391.9,214.3 389.0,214.6 386.0,214.9 383.1,215.2 380.2,215.5 377.3,215.9 374.4,216.2 371.6,216.6 368.7,217.0 365.8,217.5 362.9,218.0 360.0,218.5 357.1,219.0 354.6,219.4 352.1,219.8 349.6,220.2 347.2,220.6 344.7,221.1 342.1,221.5 339.0,221.6 335.5,221.6 330.5,220.6 328.7,216.1 328.3,212.6 328.0,209.6 327.8,206.8 327.1,203.8 326.4,201.1 325.7,198.3 323.8,196.0 321.9,193.6 320.0,191.2 318.3,188.6 316.6,186.0 315.0,183.4 313.4,180.9 311.4,178.4 309.5,175.8 308.1,173.6 306.8,171.3 305.5,169.0 304.2,166.7 303.0,164.2 301.8,161.6 300.6,159.1" fill="#c8e290" opacity="0.3" filter="url(#bl8)"/>
<polygon points="311.3,154.2 312.5,156.6 313.6,158.9 314.7,161.2 315.9,163.2 317.2,165.3 318.3,167.1 319.4,169.0 321.4,171.4 323.3,173.8 325.1,176.6 327.0,179.3 328.5,181.6 330.1,184.0 331.9,186.1 334.3,189.2 337.9,192.1 340.1,196.0 342.2,200.6 344.0,204.0 344.6,207.6 345.0,209.8 343.5,207.2 342.7,206.1 343.7,200.6 339.1,198.2 339.8,197.2 341.4,196.1 343.0,195.9 345.5,195.7 348.0,195.5 350.5,195.3 353.0,195.2 356.0,194.9 358.9,194.7 362.1,194.5 365.3,194.2 368.4,194.1 371.5,194.0 374.6,193.9 377.6,193.7 380.7,193.5 383.8,193.3 386.8,193.1 390.2,192.9 393.7,192.7 397.1,192.8 400.6,192.9 403.5,193.0 406.1,193.1 408.7,193.2 411.4,193.1 414.0,193.1 416.9,193.0 420.4,192.9 424.0,192.8 427.2,193.4 430.3,194.1 432.8,194.9 435.2,195.6 438.7,196.3 442.2,197.1 445.8,198.1 449.3,199.2 452.0,200.0 454.7,200.9 457.6,201.8 460.5,202.7 463.5,203.3 466.5,204.0 469.4,204.5 472.2,205.1 475.0,205.6 477.8,206.2 480.5,206.7 483.3,207.2 486.1,207.7 488.9,208.2 491.9,208.8 494.9,209.4 498.1,210.2 501.2,211.1 503.8,211.8 506.5,212.6 509.1,213.1 511.8,213.6 514.7,214.3 517.6,214.9 511.6,235.9 508.7,235.1 505.8,234.3 502.9,233.5 500.0,232.6 497.1,231.6 494.2,230.6 491.4,229.5 488.5,228.5 485.8,227.7 483.1,226.8 480.4,226.0 477.7,225.1 475.0,224.3 472.2,223.4 469.5,222.5 466.8,221.6 464.0,220.7 461.3,219.8 458.6,218.9 455.9,218.0 453.2,217.3 450.5,216.6 447.8,215.8 445.0,215.1 442.4,214.4 439.8,213.7 437.2,213.6 434.6,213.6 431.9,213.5 429.3,213.3 426.7,213.2 424.1,213.0 421.2,213.2 418.3,213.4 415.4,213.6 412.4,213.8 409.5,214.0 406.5,214.0 403.5,214.0 400.6,214.0 397.7,214.0 394.8,214.0 391.9,214.3 389.0,214.6 386.0,214.9 383.1,215.2 380.2,215.5 377.3,215.9 374.4,216.2 371.6,216.6 368.7,217.0 365.8,217.5 362.9,218.0 360.0,218.5 357.1,219.0 354.6,219.4 352.1,219.8 349.6,220.2 347.2,220.6 344.7,221.1 342.1,221.5 339.0,221.6 335.5,221.6 330.5,220.6 328.7,216.1 328.3,212.6 328.0,209.6 327.8,206.8 327.1,203.8 326.4,201.1 325.7,198.3 323.8,196.0 321.9,193.6 320.0,191.2 318.3,188.6 316.6,186.0 315.0,183.4 313.4,180.9 311.4,178.4 309.5,175.8 308.1,173.6 306.8,171.3 305.5,169.0 304.2,166.7 303.0,164.2 301.8,161.6 300.6,159.1" fill="#d2ea84" opacity="0.5" filter="url(#bl3)"/>
<polygon points="307.5,155.9 308.7,158.4 309.8,160.8 310.9,163.2 312.2,165.3 313.4,167.4 314.6,169.4 315.8,171.5 317.8,173.9 319.7,176.4 321.5,179.0 323.2,181.7 324.8,184.1 326.4,186.6 328.3,188.9 330.5,191.7 333.4,194.4 335.0,197.9 336.6,201.8 337.9,205.0 338.4,208.3 338.7,210.8 337.9,210.5 338.1,211.6 340.5,208.7 339.1,207.2 340.7,206.6 342.7,205.8 344.6,205.5 347.1,205.2 349.6,204.9 352.1,204.6 354.6,204.4 357.5,204.0 360.5,203.7 363.5,203.3 366.6,203.0 369.6,202.8 372.7,202.5 375.6,202.3 378.6,202.1 381.6,201.8 384.7,201.6 387.6,201.4 390.9,201.1 394.1,200.8 397.3,200.9 400.6,201.0 403.5,201.0 406.3,201.1 409.0,201.2 411.8,201.0 414.5,200.9 417.5,200.8 420.7,200.6 424.0,200.5 427.0,200.9 429.9,201.4 432.4,201.9 435.0,202.4 438.1,202.8 441.3,203.3 444.5,204.2 447.7,205.1 450.4,206.0 453.1,206.8 455.9,207.6 458.7,208.4 461.7,209.2 464.6,209.9 467.4,210.6 470.2,211.3 472.9,212.0 475.7,212.7 478.4,213.3 481.2,214.0 484.0,214.6 486.7,215.3 489.6,216.0 492.5,216.7 495.5,217.6 498.5,218.5 501.3,219.4 504.0,220.2 506.8,220.9 509.5,221.5 512.4,222.3 515.3,223.0 511.6,235.9 508.7,235.1 505.8,234.3 502.9,233.5 500.0,232.6 497.1,231.6 494.2,230.6 491.4,229.5 488.5,228.5 485.8,227.7 483.1,226.8 480.4,226.0 477.7,225.1 475.0,224.3 472.2,223.4 469.5,222.5 466.8,221.6 464.0,220.7 461.3,219.8 458.6,218.9 455.9,218.0 453.2,217.3 450.5,216.6 447.8,215.8 445.0,215.1 442.4,214.4 439.8,213.7 437.2,213.6 434.6,213.6 431.9,213.5 429.3,213.3 426.7,213.2 424.1,213.0 421.2,213.2 418.3,213.4 415.4,213.6 412.4,213.8 409.5,214.0 406.5,214.0 403.5,214.0 400.6,214.0 397.7,214.0 394.8,214.0 391.9,214.3 389.0,214.6 386.0,214.9 383.1,215.2 380.2,215.5 377.3,215.9 374.4,216.2 371.6,216.6 368.7,217.0 365.8,217.5 362.9,218.0 360.0,218.5 357.1,219.0 354.6,219.4 352.1,219.8 349.6,220.2 347.2,220.6 344.7,221.1 342.1,221.5 339.0,221.6 335.5,221.6 330.5,220.6 328.7,216.1 328.3,212.6 328.0,209.6 327.8,206.8 327.1,203.8 326.4,201.1 325.7,198.3 323.8,196.0 321.9,193.6 320.0,191.2 318.3,188.6 316.6,186.0 315.0,183.4 313.4,180.9 311.4,178.4 309.5,175.8 308.1,173.6 306.8,171.3 305.5,169.0 304.2,166.7 303.0,164.2 301.8,161.6 300.6,159.1" fill="#e2f866" filter="url(#bl2)"/>
<polygon points="304.7,157.2 305.9,159.7 307.1,162.2 308.2,164.6 309.5,166.8 310.8,169.0 312.0,171.1 313.2,173.3 315.2,175.7 317.1,178.2 318.8,180.8 320.5,183.5 322.2,186.0 323.8,188.5 325.7,190.8 327.8,193.4 330.0,196.1 331.1,199.3 332.1,202.8 333.1,205.9 333.4,209.0 333.6,211.7 333.4,213.3 334.2,216.3 337.8,215.7 339.0,214.9 341.5,214.6 343.7,214.0 346.0,213.5 348.5,213.1 350.9,212.7 353.4,212.3 355.8,211.9 358.8,211.4 361.7,210.9 364.7,210.4 367.6,209.9 370.6,209.5 373.5,209.1 376.4,208.7 379.3,208.3 382.3,208.1 385.3,207.8 388.3,207.5 391.3,207.2 394.4,207.0 397.5,207.0 400.6,207.0 403.5,207.1 406.4,207.1 409.2,207.1 412.1,207.0 414.9,206.8 417.9,206.6 421.0,206.5 424.1,206.3 426.9,206.6 429.6,206.9 432.2,207.3 434.8,207.5 437.7,207.8 440.6,208.0 443.6,208.9 446.5,209.7 449.2,210.5 451.9,211.3 454.6,212.2 457.4,213.0 460.2,213.9 463.0,214.8 465.7,215.7 468.4,216.6 471.1,217.5 473.9,218.4 476.6,219.2 479.3,220.1 482.0,220.9 484.7,221.8 487.5,222.6 490.2,223.5 493.1,224.5 496.0,225.6 498.8,226.6 501.7,227.6 504.5,228.4 507.3,229.2 510.2,230.0 513.0,230.8 511.6,235.9 508.7,235.1 505.8,234.3 502.9,233.5 500.0,232.6 497.1,231.6 494.2,230.6 491.4,229.5 488.5,228.5 485.8,227.7 483.1,226.8 480.4,226.0 477.7,225.1 475.0,224.3 472.2,223.4 469.5,222.5 466.8,221.6 464.0,220.7 461.3,219.8 458.6,218.9 455.9,218.0 453.2,217.3 450.5,216.6 447.8,215.8 445.0,215.1 442.4,214.4 439.8,213.7 437.2,213.6 434.6,213.6 431.9,213.5 429.3,213.3 426.7,213.2 424.1,213.0 421.2,213.2 418.3,213.4 415.4,213.6 412.4,213.8 409.5,214.0 406.5,214.0 403.5,214.0 400.6,214.0 397.7,214.0 394.8,214.0 391.9,214.3 389.0,214.6 386.0,214.9 383.1,215.2 380.2,215.5 377.3,215.9 374.4,216.2 371.6,216.6 368.7,217.0 365.8,217.5 362.9,218.0 360.0,218.5 357.1,219.0 354.6,219.4 352.1,219.8 349.6,220.2 347.2,220.6 344.7,221.1 342.1,221.5 339.0,221.6 335.5,221.6 330.5,220.6 328.7,216.1 328.3,212.6 328.0,209.6 327.8,206.8 327.1,203.8 326.4,201.1 325.7,198.3 323.8,196.0 321.9,193.6 320.0,191.2 318.3,188.6 316.6,186.0 315.0,183.4 313.4,180.9 311.4,178.4 309.5,175.8 308.1,173.6 306.8,171.3 305.5,169.0 304.2,166.7 303.0,164.2 301.8,161.6 300.6,159.1" fill="#f8b0b8" opacity="0.6" filter="url(#bl1)"/>
<polygon points="303.6,157.7 304.8,160.2 306.0,162.7 307.1,165.2 308.4,167.4 309.7,169.6 311.0,171.7 312.3,173.9 314.2,176.4 316.2,178.9 317.8,181.5 319.5,184.1 321.2,186.6 322.8,189.2 324.7,191.5 326.7,194.1 329.0,196.6 330.0,199.8 331.0,203.0 331.9,206.1 332.2,209.1 332.4,211.9 332.4,213.9 333.4,217.2 337.3,216.8 339.0,216.1 341.6,215.8 343.9,215.2 346.2,214.7 348.7,214.3 351.1,213.9 353.6,213.5 356.0,213.1 359.0,212.6 361.9,212.1 364.9,211.6 367.8,211.1 370.7,210.7 373.7,210.3 376.6,209.9 379.5,209.5 382.5,209.3 385.4,209.0 388.4,208.7 391.4,208.4 394.5,208.2 397.5,208.2 400.6,208.2 403.5,208.3 406.4,208.3 409.3,208.3 412.1,208.2 415.0,208.0 417.9,207.8 421.0,207.7 424.1,207.5 426.8,207.8 429.6,208.1 432.2,208.5 434.8,208.7 437.6,209.0 440.4,209.2 443.3,210.1 446.2,210.9 448.9,211.7 451.6,212.5 454.3,213.3 457.0,214.1 459.8,215.0 462.6,215.9 465.3,216.8 468.0,217.7 470.8,218.6 473.5,219.5 476.2,220.4 478.9,221.2 481.6,222.1 484.3,222.9 487.1,223.8 489.8,224.6 492.7,225.7 495.6,226.7 498.5,227.7 501.3,228.7 504.1,229.5 507.0,230.4 509.8,231.2 512.7,232.0 511.6,235.9 508.7,235.1 505.8,234.3 502.9,233.5 500.0,232.6 497.1,231.6 494.2,230.6 491.4,229.5 488.5,228.5 485.8,227.7 483.1,226.8 480.4,226.0 477.7,225.1 475.0,224.3 472.2,223.4 469.5,222.5 466.8,221.6 464.0,220.7 461.3,219.8 458.6,218.9 455.9,218.0 453.2,217.3 450.5,216.6 447.8,215.8 445.0,215.1 442.4,214.4 439.8,213.7 437.2,213.6 434.6,213.6 431.9,213.5 429.3,213.3 426.7,213.2 424.1,213.0 421.2,213.2 418.3,213.4 415.4,213.6 412.4,213.8 409.5,214.0 406.5,214.0 403.5,214.0 400.6,214.0 397.7,214.0 394.8,214.0 391.9,214.3 389.0,214.6 386.0,214.9 383.1,215.2 380.2,215.5 377.3,215.9 374.4,216.2 371.6,216.6 368.7,217.0 365.8,217.5 362.9,218.0 360.0,218.5 357.1,219.0 354.6,219.4 352.1,219.8 349.6,220.2 347.2,220.6 344.7,221.1 342.1,221.5 339.0,221.6 335.5,221.6 330.5,220.6 328.7,216.1 328.3,212.6 328.0,209.6 327.8,206.8 327.1,203.8 326.4,201.1 325.7,198.3 323.8,196.0 321.9,193.6 320.0,191.2 318.3,188.6 316.6,186.0 315.0,183.4 313.4,180.9 311.4,178.4 309.5,175.8 308.1,173.6 306.8,171.3 305.5,169.0 304.2,166.7 303.0,164.2 301.8,161.6 300.6,159.1" fill="#ff3cbc" filter="url(#bl1)"/>
<path d="M257.5 117.0 L265.0 116.0 L270.5 115.4 L275.6 118.3 L277.6 125.2 L279.5 133.0 L283.5 139.8 L288.4 146.7 L294.2 153.5 L298.2 159.4 L301.0 164.5 L302.8 171.0 L306.5 178.5 L312.0 187.0 L316.5 191.5 L320.5 196.0 L324.0 203.0 L325.6 209.4 L325.8 216.0 L324.4 221.5" fill="none" stroke="#e0246e" stroke-width="6.8" stroke-linejoin="round"/>
<path d="M257.5 117.0 L265.0 116.0 L270.5 115.4 L275.6 118.3 L277.6 125.2 L279.5 133.0 L283.5 139.8 L288.4 146.7 L294.2 153.5 L298.2 159.4 L301.0 164.5 L302.8 171.0 L306.5 178.5 L312.0 187.0 L316.5 191.5 L320.5 196.0 L324.0 203.0 L325.6 209.4 L325.8 216.0 L324.4 221.5" fill="none" stroke="#8e0024" stroke-width="4.4" stroke-linejoin="round" stroke-dasharray="2 1"/>
<path d="M325.8 216.0 L324.4 221.5 L320.0 228.3 L312.0 234.0 L301.8 240.8 L306.0 240.2 L315.0 237.3 L326.0 233.5 L337.0 231.0 L349.4 229.6 L364.0 226.6 L380.0 223.9 L394.7 220.1 L409.4 217.6 L424.1 215.3 L433.0 214.3 L440.0 215.6 L456.3 220.2 L472.7 225.8 L489.0 230.9 L500.5 235.0 L510.0 238.0" fill="none" stroke="#8c0014" stroke-width="5.5" stroke-linejoin="round"/>
<path d="M302.0 158.5 L305.5 166.0 L310.7 175.0 L314.6 180.0 L321.2 190.3 L327.0 197.6 L329.3 206.5 L330.0 215.3 L331.5 219.5" fill="none" stroke="#ff40b8" stroke-width="2.4" stroke-linejoin="round" stroke-dasharray="1.6 1.2"/>
<polygon points="298.2,159.4 302.0,158.5 305.5,166.0 310.7,175.0 314.6,180.0 321.2,190.3 327.0,197.6 329.3,206.5 330.0,215.3 331.5,219.5 336.0,220.2 342.0,220.0 356.8,217.5 368.5,215.5 380.0,214.0 394.7,212.5 409.4,212.5 424.1,211.5 432.0,212.3 440.0,212.4 456.3,216.8 472.7,222.2 489.0,227.3 500.5,231.5 512.0,235.0 512.0,240.0 500.5,235.0 489.0,230.9 472.7,225.8 456.3,220.2 440.0,215.6 433.0,214.3 424.1,215.3 409.4,217.6 394.7,220.1 380.0,223.9 364.0,226.6 349.4,229.6 337.0,231.0 326.0,233.5 315.0,237.3 306.0,240.2 301.8,240.8 312.0,234.0 320.0,228.3 324.4,221.5 325.6,215.6 325.6,210.0 324.0,203.8" fill="#8c0014"/>
<path d="M250.0 117.0 L257.5 117.0 L265.0 116.0 L270.5 115.4 L275.6 118.3 L277.6 125.2 L279.5 133.0 L283.5 139.8 L288.4 146.7 L294.2 153.5 L298.2 159.4 L301.0 164.5 L302.8 171.0 L306.5 178.5 L312.0 187.0 L316.5 191.5 L320.5 196.0 L324.0 203.0 L325.6 209.4 L325.8 216.0 L324.4 221.5 L320.0 228.3 L312.0 234.0 L301.8 240.8 L306.0 240.2 L315.0 237.3 L326.0 233.5 L337.0 231.0 L349.4 229.6 L364.0 226.6 L380.0 223.9 L394.7 220.1 L409.4 217.6 L424.1 215.3 L433.0 214.3 L440.0 215.6 L456.3 220.2 L472.7 225.8 L489.0 230.9 L500.5 235.0 L510.0 238.0 L510.0 260.0 L250.0 260.0Z" fill="#848484"/>
</g>
<rect x="257.5" y="75.8" width="245.8" height="175.4" fill="none" stroke="#111" stroke-width="1.3"/>
<text x="287.7" y="69.4" font-size="5.75" fill="#333" text-anchor="middle" font-family="Liberation Sans, Arial, sans-serif">93°0'0"W</text>
<text x="287.7" y="262.2" font-size="5.75" fill="#333" text-anchor="middle" font-family="Liberation Sans, Arial, sans-serif">93°0'0"W</text>
<text x="354.8" y="69.4" font-size="5.75" fill="#333" text-anchor="middle" font-family="Liberation Sans, Arial, sans-serif">92°0'0"W</text>
<text x="354.8" y="262.2" font-size="5.75" fill="#333" text-anchor="middle" font-family="Liberation Sans, Arial, sans-serif">92°0'0"W</text>
<text x="421.9" y="69.4" font-size="5.75" fill="#333" text-anchor="middle" font-family="Liberation Sans, Arial, sans-serif">91°0'0"W</text>
<text x="421.9" y="262.2" font-size="5.75" fill="#333" text-anchor="middle" font-family="Liberation Sans, Arial, sans-serif">91°0'0"W</text>
<text x="489.0" y="69.4" font-size="5.75" fill="#333" text-anchor="middle" font-family="Liberation Sans, Arial, sans-serif">90°0'0"W</text>
<text x="489.0" y="262.2" font-size="5.75" fill="#333" text-anchor="middle" font-family="Liberation Sans, Arial, sans-serif">90°0'0"W</text>
<text transform="translate(250.4 99.7) rotate(-90)" font-size="5.2" fill="#333" text-anchor="middle" font-family="Liberation Sans, Arial, sans-serif">59°0'0"N</text>
<text transform="translate(513.3 99.7) rotate(-90)" font-size="5.2" fill="#333" text-anchor="middle" font-family="Liberation Sans, Arial, sans-serif">59°0'0"N</text>
<text transform="translate(250.4 167.3) rotate(-90)" font-size="5.2" fill="#333" text-anchor="middle" font-family="Liberation Sans, Arial, sans-serif">58°0'0"N</text>
<text transform="translate(513.3 167.3) rotate(-90)" font-size="5.2" fill="#333" text-anchor="middle" font-family="Liberation Sans, Arial, sans-serif">58°0'0"N</text>
<text transform="translate(250.4 234.9) rotate(-90)" font-size="5.2" fill="#333" text-anchor="middle" font-family="Liberation Sans, Arial, sans-serif">57°0'0"N</text>
<text transform="translate(513.3 234.9) rotate(-90)" font-size="5.2" fill="#333" text-anchor="middle" font-family="Liberation Sans, Arial, sans-serif">57°0'0"N</text>
<path d="M287.7 75.8v4.2M287.7 251.2v-4.2M354.8 75.8v4.2M354.8 251.2v-4.2M421.9 75.8v4.2M421.9 251.2v-4.2M489.0 75.8v4.2M489.0 251.2v-4.2M257.5 99.7h4.2M503.3 99.7h-4.2M257.5 167.3h4.2M503.3 167.3h-4.2M257.5 234.9h4.2M503.3 234.9h-4.2" stroke="#111" stroke-width="1.1"/>
<text x="261.4" y="87.6" font-size="8" fill="#111" stroke="#111" stroke-width="0.35" font-family="Liberation Sans, Arial, sans-serif">c.</text>
<text x="489.7" y="89.2" font-size="7.2" fill="#111" text-anchor="middle" font-family="Liberation Sans, Arial, sans-serif">N</text>
<path d="M490.2 91.5 L483.9 110.4 L490 104.5Z" fill="#111"/><path d="M490.2 91.5 L495.6 110.4 L490 104.5Z" fill="none" stroke="#111" stroke-width="0.6"/>
<text x="445.1" y="103" font-size="6.1" font-weight="bold" fill="#111" textLength="35.6" lengthAdjust="spacingAndGlyphs" font-family="Liberation Sans, Arial, sans-serif">Hudson Bay</text>
<text x="416" y="226.6" font-size="6.3" font-weight="bold" fill="#111" textLength="38.8" lengthAdjust="spacingAndGlyphs" font-family="Liberation Sans, Arial, sans-serif">Cape Tatnam</text>
<text x="271.5" y="242.2" font-size="6.3" font-weight="bold" fill="#111" textLength="28.6" lengthAdjust="spacingAndGlyphs" font-family="Liberation Sans, Arial, sans-serif">Nelson R.</text>
<text transform="translate(313.5 248.6) rotate(-34.6)" font-size="5.9" font-weight="bold" fill="#111" textLength="26" lengthAdjust="spacingAndGlyphs" font-family="Liberation Sans, Arial, sans-serif">Hayes R.</text>
<path d="M422.3 242.5H482.8M422.3 241.6v1.8M429.9 241.6v1.8M437.4 241.6v1.8M445.0 241.6v1.8M452.5 241.6v1.8M460.1 241.6v1.8M467.7 241.6v1.8M475.2 241.6v1.8M482.8 241.6v1.8" stroke="#111" stroke-width="0.7"/>
<text x="422.3" y="238.6" font-size="2.8" fill="#222" text-anchor="middle" font-family="Liberation Sans, Arial, sans-serif">0</text>
<text x="437.4" y="238.6" font-size="2.8" fill="#222" text-anchor="middle" font-family="Liberation Sans, Arial, sans-serif">25</text>
<text x="452.5" y="238.6" font-size="2.8" fill="#222" text-anchor="middle" font-family="Liberation Sans, Arial, sans-serif">50</text>
<text x="480" y="238.6" font-size="2.8" fill="#222" font-family="Liberation Sans, Arial, sans-serif">100 Km</text>
<linearGradient id="lg" x1="0" y1="0" x2="0" y2="1"><stop offset="0" stop-color="#7a0008"/><stop offset="0.45" stop-color="#8e1408"/><stop offset="0.65" stop-color="#b03a14"/><stop offset="0.7" stop-color="#c02818"/><stop offset="0.73" stop-color="#ff1ea6"/><stop offset="0.79" stop-color="#ff70d6"/><stop offset="0.82" stop-color="#fff0f8"/><stop offset="0.86" stop-color="#f4ff98"/><stop offset="0.93" stop-color="#c8f0a0"/><stop offset="0.95" stop-color="#4a7ce8"/><stop offset="1" stop-color="#3a6ae0"/></linearGradient>
<rect x="262" y="169.2" width="6.8" height="62.7" fill="url(#lg)"/>
<text x="261.2" y="165.8" font-size="3.6" font-weight="bold" fill="#111" textLength="31" lengthAdjust="spacingAndGlyphs" font-family="Liberation Sans, Arial, sans-serif">aCDOM (412) (/m)</text>
<text x="276.6" y="171.7" font-size="3.5" fill="#222" stroke="#222" stroke-width="0.1" font-family="Liberation Sans, Arial, sans-serif">10.0 (River)</text>
<text x="276.6" y="213.5" font-size="3.5" fill="#222" stroke="#222" stroke-width="0.1" font-family="Liberation Sans, Arial, sans-serif">3.06 (0.50 RCWF)</text>
<text x="276.6" y="217.4" font-size="3.5" fill="#222" stroke="#222" stroke-width="0.1" font-family="Liberation Sans, Arial, sans-serif">2.28 (0.25 RCWF)</text>
<text x="276.6" y="227.3" font-size="3.5" fill="#222" stroke="#222" stroke-width="0.1" font-family="Liberation Sans, Arial, sans-serif">0.85 (0.00 RCWF)</text>
<text x="276.6" y="231.8" font-size="3.5" fill="#222" stroke="#222" stroke-width="0.1" font-family="Liberation Sans, Arial, sans-serif">0.00 (Marine)</text>
</svg></body></html>
